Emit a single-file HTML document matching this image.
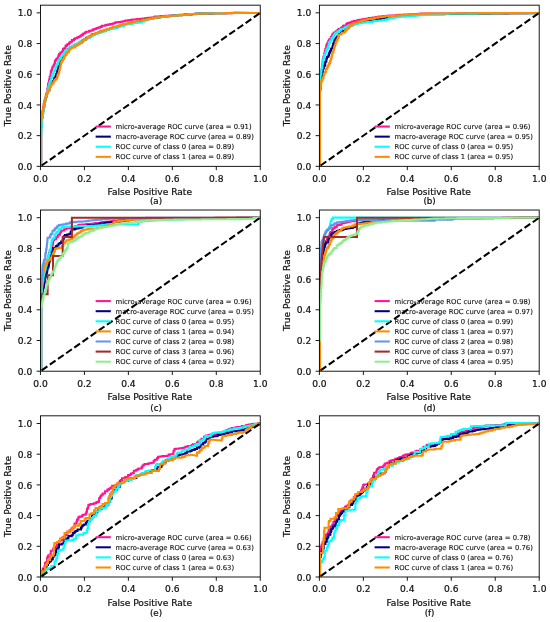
<!DOCTYPE html>
<html><head><meta charset="utf-8"><title>ROC curves</title>
<style>html,body{margin:0;padding:0;background:#fff}svg{display:block}text{font-family:"DejaVu Sans","Liberation Sans",sans-serif;fill:#111;stroke:#111;stroke-width:0.22px}text.lg{stroke-width:0.12px}</style>
</head><body>
<svg width="550" height="622" viewBox="0 0 550 622">
<rect width="550" height="622" fill="#fff"/>
<clipPath id="clipa"><rect x="40.45" y="5.17" width="219.8" height="161.18"/></clipPath>
<g clip-path="url(#clipa)" fill="none" stroke-linejoin="miter" stroke-linecap="butt">
<polyline points="41.1,166.3 41.1,130.0 41.1,129.1 41.1,128.0 41.1,125.9 41.1,124.9 41.2,124.9 41.2,124.1 41.3,124.1 41.3,123.0 41.3,122.0 41.4,122.0 41.4,120.1 41.6,120.1 41.7,120.1 41.7,118.5 41.9,118.5 41.9,116.9 42.0,116.9 42.0,116.0 42.2,116.0 42.2,114.9 42.2,114.0 42.3,114.0 42.3,113.3 42.4,113.3 42.4,111.2 42.8,111.2 43.0,111.2 43.0,109.8 43.0,108.9 43.2,108.9 43.2,108.1 43.3,108.1 43.3,106.9 43.5,106.9 43.5,105.9 43.7,105.9 43.7,104.0 44.0,104.0 44.0,102.9 44.3,102.9 44.3,102.1 44.5,102.1 44.5,100.8 44.8,100.8 45.0,100.8 45.0,100.1 45.0,98.9 45.3,98.9 45.3,98.0 45.5,98.0 45.8,98.0 45.8,96.7 45.8,95.9 46.0,95.9 46.3,95.9 46.3,94.7 46.6,94.7 46.6,93.5 47.0,93.5 47.0,92.0 47.2,92.0 47.2,91.1 47.4,91.1 47.4,90.1 47.4,88.8 47.6,88.8 47.8,88.8 47.8,87.9 47.9,87.9 47.9,87.0 47.9,86.2 48.1,86.2 48.1,84.0 48.5,84.0 48.5,82.8 48.8,82.8 49.0,82.8 49.0,81.5 49.0,80.5 49.2,80.5 49.4,80.5 49.4,79.8 49.4,79.0 49.5,79.0 49.7,79.0 49.7,78.2 49.7,76.7 50.0,76.7 50.5,76.7 50.5,74.6 50.8,74.6 50.8,72.8 50.8,72.0 51.0,72.0 51.0,71.4 51.2,71.4 51.2,70.5 51.6,70.5 51.9,70.5 51.9,69.8 52.2,69.8 52.2,69.0 52.2,68.0 52.6,68.0 52.6,66.4 53.2,66.4 53.6,66.4 53.6,65.5 54.0,65.5 54.0,64.4 54.7,64.4 54.7,62.6 55.0,62.6 55.0,62.0 55.0,60.8 55.8,60.8 55.8,60.0 56.3,60.0 56.3,59.1 56.8,59.1 56.8,58.5 57.2,58.5 57.9,58.5 57.9,57.4 58.3,57.4 58.3,56.8 58.3,56.2 58.6,56.2 58.6,55.5 59.1,55.5 59.1,54.0 60.0,54.0 60.0,53.5 60.4,53.5 60.4,52.8 60.9,52.8 61.6,52.8 61.6,52.0 62.2,52.0 62.2,51.2 63.0,51.2 63.0,50.2 63.0,49.0 63.9,49.0 63.9,48.3 64.5,48.3 65.4,48.3 65.4,47.1 65.4,46.5 65.8,46.5 65.8,45.6 66.5,45.6 67.0,45.6 67.0,45.0 67.0,44.5 67.7,44.5 68.3,44.5 68.3,44.1 69.1,44.1 69.1,43.5 69.1,43.1 69.6,43.1 69.6,42.4 70.5,42.4 70.5,41.8 71.3,41.8 71.9,41.8 71.9,41.3 71.9,40.1 73.5,40.1 74.0,40.1 74.0,39.8 74.0,39.0 75.0,39.0 75.0,38.2 76.4,38.2 77.0,38.2 77.0,37.8 77.0,37.4 77.7,37.4 78.4,37.4 78.4,36.9 79.3,36.9 79.3,36.4 80.5,36.4 80.5,35.7 81.5,35.7 81.5,35.1 82.7,35.1 82.7,34.4 82.7,34.0 83.3,34.0 83.3,33.5 84.1,33.5 85.0,33.5 85.0,33.0 85.0,32.5 86.2,32.5 86.2,31.8 87.9,31.8 89.1,31.8 89.1,31.3 89.1,31.1 89.8,31.1 89.8,30.8 90.4,30.8 91.3,30.8 91.3,30.5 92.9,30.5 92.9,29.8 92.9,29.6 93.5,29.6 93.5,29.3 94.3,29.3 95.0,29.3 95.0,29.0 96.0,29.0 96.0,28.7 96.0,28.4 96.8,28.4 96.8,28.1 97.7,28.1 97.7,27.8 98.5,27.8 99.1,27.8 99.1,27.6 99.9,27.6 99.9,27.4 99.9,26.9 101.1,26.9 101.1,26.6 102.1,26.6 102.1,25.8 104.3,25.8 105.0,25.8 105.0,25.6 105.0,25.2 106.4,25.2 106.4,24.9 107.6,24.9 107.6,24.6 108.8,24.6 110.0,24.6 110.0,24.3 110.0,24.1 110.9,24.1 112.5,24.1 112.5,23.6 112.5,23.4 113.3,23.4 114.0,23.4 114.0,23.3 115.0,23.3 115.0,23.0 115.0,22.8 115.8,22.8 115.8,22.3 118.3,22.3 118.3,22.1 119.5,22.1 119.5,21.9 120.3,21.9 121.2,21.9 121.2,21.8 122.4,21.8 122.4,21.5 122.4,21.4 123.2,21.4 123.2,21.2 124.0,21.2 125.0,21.2 125.0,21.0 125.0,20.8 126.1,20.8 126.1,20.6 127.8,20.6 127.8,20.3 129.6,20.3 129.6,20.1 130.4,20.1 130.4,20.0 131.3,20.0 131.3,19.8 132.8,19.8 132.8,19.5 134.1,19.5 134.1,19.4 135.0,19.4 136.2,19.4 136.2,19.3 136.2,19.2 137.3,19.2 137.3,19.1 138.4,19.1 138.4,18.9 139.6,18.9 140.6,18.9 140.6,18.8 142.9,18.8 142.9,18.6 142.9,18.5 143.7,18.5 143.7,18.4 145.0,18.4 145.0,18.2 146.4,18.2 146.4,18.1 147.4,18.1 147.4,18.0 148.3,18.0 148.3,17.8 149.5,17.8 149.5,17.7 150.5,17.7 151.3,17.7 151.3,17.6 151.3,17.4 152.5,17.4 153.9,17.4 153.9,17.3 153.9,17.1 154.8,17.1 154.8,16.6 158.6,16.6 158.6,16.5 159.4,16.5 160.9,16.5 160.9,16.3 160.9,16.2 161.7,16.2 161.7,16.1 162.8,16.1 162.8,16.0 163.6,16.0 165.2,16.0 165.2,15.9 165.2,15.8 166.1,15.8 167.0,15.8 167.0,15.7 168.7,15.7 169.6,15.7 169.6,15.6 171.0,15.6 171.0,15.5 171.0,15.4 172.5,15.4 172.5,15.3 174.1,15.3 174.1,15.2 175.1,15.2 175.1,15.1 176.9,15.1 176.9,15.0 178.1,15.0 178.1,14.9 179.8,14.9 179.8,14.8 180.8,14.8 182.0,14.8 183.2,14.8 183.2,14.7 184.9,14.7 184.9,14.6 184.9,14.4 186.6,14.4 186.6,14.3 188.5,14.3 188.5,14.2 189.6,14.2 190.4,14.2 190.4,14.1 191.8,14.1 191.8,14.0 192.6,14.0 192.6,13.9 194.5,13.9 195.3,13.9 195.3,13.8 196.1,13.8 197.7,13.8 197.7,13.7 197.7,13.6 199.0,13.6 200.2,13.6 201.1,13.6 202.0,13.6 202.0,13.5 203.4,13.5 204.8,13.5 206.7,13.5 207.5,13.5 207.5,13.4 208.7,13.4 210.3,13.4 211.8,13.4 213.3,13.4 214.2,13.4 214.2,13.3 215.5,13.3 217.2,13.3 218.1,13.3 219.1,13.3 219.1,13.2 220.4,13.2 222.1,13.2 223.2,13.2 225.0,13.2 225.0,13.1 226.4,13.1 227.6,13.1 228.8,13.1 230.3,13.1 231.6,13.1 231.6,13.0 234.5,13.0 260.5,13.0" stroke="#ff1493" stroke-width="2.05"/>
<polyline points="41.1,166.3 41.1,132.0 41.1,131.1 41.1,130.1 41.1,129.2 41.1,127.5 41.3,127.5 41.3,125.9 41.5,125.9 41.5,123.5 41.6,123.5 41.6,122.3 41.8,122.3 41.8,121.0 41.9,121.0 41.9,120.1 41.9,119.0 42.0,119.0 42.0,117.4 42.3,117.4 42.5,117.4 42.5,116.0 42.5,114.5 42.7,114.5 42.7,113.6 42.9,113.6 43.1,113.6 43.1,112.1 43.1,110.6 43.4,110.6 43.4,109.6 43.6,109.6 43.7,109.6 43.7,108.7 43.7,107.9 43.8,107.9 44.0,107.9 44.0,107.0 44.3,107.0 44.3,105.6 44.3,104.4 44.6,104.4 44.6,103.4 44.8,103.4 44.8,102.5 45.0,102.5 45.0,101.8 45.2,101.8 45.2,100.0 45.6,100.0 45.6,98.7 45.9,98.7 45.9,97.7 46.2,97.7 46.2,96.8 46.4,96.8 46.4,95.5 46.7,95.5 46.7,94.0 47.0,94.0 47.2,94.0 47.2,93.4 47.2,92.6 47.5,92.6 47.5,92.0 47.8,92.0 48.0,92.0 48.0,91.2 48.4,91.2 48.4,90.1 49.3,90.1 49.3,87.9 49.3,87.2 49.6,87.2 49.6,86.0 50.0,86.0 50.0,85.1 50.6,85.1 50.6,83.9 51.4,83.9 51.4,83.4 51.7,83.4 52.2,83.4 52.2,82.7 52.2,81.9 52.7,81.9 52.7,81.1 53.3,81.1 54.0,81.1 54.0,80.0 54.0,79.1 54.4,79.1 54.4,77.8 54.9,77.8 55.5,77.8 55.5,76.6 55.5,75.9 55.8,75.9 56.1,75.9 56.1,75.1 56.1,73.9 56.6,73.9 57.0,73.9 57.0,73.0 57.0,72.3 57.2,72.3 57.2,71.0 57.5,71.0 57.5,70.3 57.7,70.3 58.0,70.3 58.0,69.5 58.0,68.5 58.2,68.5 58.2,67.0 58.6,67.0 58.6,66.1 58.9,66.1 59.1,66.1 59.1,65.3 59.3,65.3 59.3,64.5 60.0,64.5 60.0,62.0 60.0,61.0 60.6,61.0 60.6,60.1 61.2,60.1 61.2,59.1 61.8,59.1 61.8,58.4 62.2,58.4 62.2,57.9 62.6,57.9 62.6,57.1 63.0,57.1 63.0,56.5 63.5,56.5 63.5,55.6 64.0,55.6 64.0,54.0 65.0,54.0 65.0,53.4 65.5,53.4 66.2,53.4 66.2,52.6 66.2,52.1 66.6,52.1 66.6,51.2 67.4,51.2 67.4,50.5 67.9,50.5 67.9,49.5 68.7,49.5 68.7,48.7 69.4,48.7 69.4,48.0 70.0,48.0 70.0,47.5 71.1,47.5 71.1,47.2 71.7,47.2 72.3,47.2 72.3,46.9 72.3,46.4 73.1,46.4 73.1,46.2 73.7,46.2 73.7,45.5 74.9,45.5 75.6,45.5 75.6,45.2 75.6,44.7 76.6,44.7 76.6,44.0 78.0,44.0 78.0,43.5 78.7,43.5 79.5,43.5 79.5,43.0 79.5,42.5 80.2,42.5 80.2,42.2 80.7,42.2 81.7,42.2 81.7,41.6 82.2,41.6 82.2,41.2 83.2,41.2 83.2,40.5 83.2,40.0 84.0,40.0 84.0,39.5 84.7,39.5 86.1,39.5 86.1,38.6 86.1,38.0 87.0,38.0 87.0,37.6 87.8,37.6 88.4,37.6 88.4,37.3 89.6,37.3 89.6,36.7 89.6,36.4 90.2,36.4 90.2,36.1 90.7,36.1 91.4,36.1 91.4,35.8 91.4,35.3 92.4,35.3 92.4,34.3 94.4,34.3 94.4,34.0 95.0,34.0 96.3,34.0 96.3,33.5 97.1,33.5 97.1,33.3 97.1,32.9 98.2,32.9 98.2,32.7 98.8,32.7 98.8,32.4 99.6,32.4 99.6,32.1 100.3,32.1 100.3,31.6 101.9,31.6 101.9,31.3 102.6,31.3 102.6,30.8 104.1,30.8 105.0,30.8 105.0,30.5 106.1,30.5 106.1,30.2 106.1,29.9 107.0,29.9 107.0,29.6 108.0,29.6 108.0,29.4 108.7,29.4 108.7,29.0 109.9,29.0 109.9,28.7 110.9,28.7 110.9,28.1 113.1,28.1 114.1,28.1 114.1,27.8 115.0,27.8 115.0,27.5 116.2,27.5 116.2,27.1 117.5,27.1 117.5,26.7 117.5,26.5 118.4,26.5 119.5,26.5 119.5,26.1 119.5,25.8 120.8,25.8 120.8,25.5 121.7,25.5 122.6,25.5 122.6,25.2 122.6,25.0 123.4,25.0 123.4,24.5 125.0,24.5 125.0,24.3 125.8,24.3 125.8,23.9 127.7,23.9 127.7,23.7 128.6,23.7 129.3,23.7 129.3,23.6 129.3,23.3 130.6,23.3 130.6,23.1 131.6,23.1 132.4,23.1 132.4,22.9 133.8,22.9 133.8,22.6 133.8,22.3 135.0,22.3 136.8,22.3 136.8,21.8 136.8,21.4 138.2,21.4 138.2,21.1 139.4,21.1 140.4,21.1 140.4,20.8 141.1,20.8 141.1,20.7 141.1,20.5 141.8,20.5 141.8,20.1 143.1,20.1 143.1,19.8 144.2,19.8 145.0,19.8 145.0,19.6 145.0,19.4 146.2,19.4 146.2,19.3 147.0,19.3 147.0,19.1 147.9,19.1 147.9,19.0 148.7,19.0 148.7,18.8 149.6,18.8 151.0,18.8 151.0,18.6 151.0,18.5 151.8,18.5 151.8,18.3 152.6,18.3 153.9,18.3 153.9,18.1 153.9,18.0 154.8,18.0 157.5,18.0 157.5,17.5 159.8,17.5 159.8,17.1 159.8,16.8 161.6,16.8 161.6,16.6 162.8,16.6 162.8,16.5 163.6,16.5 163.6,16.4 164.6,16.4 166.3,16.4 166.3,16.3 168.2,16.3 168.2,16.1 169.8,16.1 169.8,16.0 171.5,16.0 171.5,15.9 171.5,15.7 173.0,15.7 173.8,15.7 174.7,15.7 174.7,15.6 174.7,15.5 175.5,15.5 175.5,15.4 176.7,15.4 177.6,15.4 177.6,15.3 178.6,15.3 178.6,15.2 179.5,15.2 179.5,15.1 180.8,15.1 182.0,15.1 182.0,15.0 184.0,15.0 184.0,14.8 185.6,14.8 185.6,14.7 185.6,14.5 187.6,14.5 187.6,14.4 188.9,14.4 189.8,14.4 191.1,14.4 191.1,14.2 192.2,14.2 192.2,14.0 193.5,14.0 193.5,13.9 195.4,13.9 195.4,13.8 196.2,13.8 196.2,13.7 197.6,13.7 199.0,13.7 199.0,13.6 200.1,13.6 200.1,13.5 201.8,13.5 203.0,13.5 204.8,13.5 206.2,13.5 206.2,13.4 207.7,13.4 209.8,13.4 211.3,13.4 211.3,13.3 212.2,13.3 213.5,13.3 214.5,13.3 215.6,13.3 215.6,13.2 217.2,13.2 218.1,13.2 219.0,13.2 220.3,13.2 221.2,13.2 221.2,13.1 222.2,13.1 223.5,13.1 224.3,13.1 226.1,13.1 226.1,13.0 227.0,13.0 228.2,13.0 229.8,13.0 231.2,13.0 234.5,13.0 234.5,12.9 260.5,13.0" stroke="#000080" stroke-width="2.05"/>
<polyline points="41.1,166.3 41.1,148.0 41.1,145.8 41.1,144.7 41.1,143.3 41.1,141.5 41.1,140.5 41.1,139.3 41.1,138.1 41.1,137.1 41.1,135.8 41.2,135.8 41.2,135.0 41.2,134.1 41.3,134.1 41.3,132.7 41.4,132.7 41.4,131.5 41.4,130.5 41.5,130.5 41.5,129.6 41.5,127.6 41.6,127.6 41.7,127.6 41.7,126.6 41.7,125.0 41.8,125.0 41.9,125.0 41.9,124.2 41.9,123.3 41.9,121.6 42.1,121.6 42.2,121.6 42.2,120.1 42.2,118.7 42.4,118.7 42.4,117.1 42.5,117.1 42.5,116.0 42.6,116.0 42.9,116.0 42.9,114.0 43.1,114.0 43.1,113.2 43.1,111.6 43.3,111.6 43.3,110.2 43.5,110.2 43.5,109.1 43.7,109.1 43.9,109.1 43.9,108.1 44.0,108.1 44.0,107.3 44.0,106.0 44.2,106.0 44.4,106.0 44.4,105.3 44.8,105.3 44.8,103.3 44.8,102.4 44.9,102.4 44.9,100.8 45.3,100.8 45.3,99.8 45.5,99.8 45.5,98.5 45.8,98.5 45.8,97.5 46.0,97.5 46.0,96.0 46.3,96.0 46.5,96.0 46.5,95.0 46.8,95.0 46.8,94.0 46.8,92.4 47.2,92.4 47.2,91.5 47.5,91.5 47.5,90.3 47.8,90.3 48.3,90.3 48.3,88.6 48.3,87.8 48.5,87.8 48.5,87.1 48.7,87.1 48.7,86.0 49.0,86.0 49.2,86.0 49.2,85.4 49.2,84.1 49.6,84.1 49.6,82.8 50.1,82.8 50.3,82.8 50.3,82.2 50.3,81.1 50.6,81.1 51.1,81.1 51.1,79.6 51.1,78.4 51.5,78.4 51.5,77.7 51.8,77.7 51.8,77.0 52.0,77.0 52.0,76.3 52.3,76.3 52.3,75.6 52.5,75.6 52.5,74.0 53.2,74.0 53.2,73.2 53.5,73.2 53.5,72.4 53.8,72.4 53.8,71.3 54.3,71.3 54.9,71.3 54.9,69.7 55.3,69.7 55.3,68.7 55.3,68.0 55.6,68.0 55.6,67.0 56.0,67.0 56.0,66.4 56.3,66.4 56.6,66.4 56.6,65.8 56.6,64.9 57.0,64.9 57.0,63.9 57.5,63.9 58.1,63.9 58.1,62.9 58.1,62.0 58.5,62.0 58.5,60.7 59.2,60.7 59.5,60.7 59.5,60.0 59.5,59.0 60.0,59.0 60.0,58.4 60.4,58.4 61.0,58.4 61.0,57.5 61.0,56.1 62.1,56.1 62.1,55.5 62.5,55.5 63.4,55.5 63.4,54.2 63.8,54.2 63.8,53.6 63.8,53.1 64.2,53.1 64.2,52.6 64.6,52.6 65.0,52.6 65.0,52.0 65.0,51.5 65.6,51.5 65.6,51.0 66.1,51.0 66.1,50.0 67.2,50.0 67.2,49.5 67.8,49.5 68.9,49.5 68.9,48.5 68.9,48.1 69.3,48.1 69.3,47.5 70.0,47.5 70.0,47.1 70.7,47.1 71.8,47.1 71.8,46.6 72.4,46.6 72.4,46.3 72.4,45.9 73.2,45.9 74.1,45.9 74.1,45.4 75.1,45.4 75.1,44.9 75.1,44.4 76.2,44.4 76.2,44.0 77.0,44.0 77.0,43.5 78.0,43.5 78.0,43.0 78.9,43.0 78.9,42.7 79.5,42.7 79.5,42.1 80.5,42.1 80.5,41.1 82.3,41.1 83.2,41.1 83.2,40.6 83.8,40.6 83.8,40.3 84.4,40.3 84.4,39.9 84.4,39.6 85.0,39.6 85.0,39.2 85.8,39.2 87.0,39.2 87.0,38.5 88.1,38.5 88.1,38.0 88.1,37.6 88.8,37.6 90.0,37.6 90.0,37.0 90.0,36.6 90.7,36.6 90.7,36.0 92.1,36.0 92.1,35.7 92.7,35.7 93.2,35.7 93.2,35.4 93.2,34.9 94.2,34.9 95.0,34.9 95.0,34.5 95.0,34.1 96.2,34.1 96.9,34.1 96.9,33.8 96.9,33.5 97.9,33.5 97.9,33.2 98.7,33.2 98.7,32.8 99.8,32.8 101.0,32.8 101.0,32.4 101.0,32.0 102.1,32.0 102.1,31.6 103.2,31.6 103.2,31.4 103.8,31.4 105.0,31.4 105.0,31.0 105.0,30.8 105.7,30.8 105.7,30.6 106.4,30.6 106.4,29.9 108.5,29.9 108.5,29.4 110.2,29.4 110.2,29.1 111.5,29.1 111.5,28.8 112.3,28.8 113.1,28.8 113.1,28.6 113.1,28.3 114.0,28.3 114.0,28.0 115.0,28.0 115.0,27.8 115.8,27.8 116.8,27.8 116.8,27.5 118.0,27.5 118.0,27.1 118.9,27.1 118.9,26.8 118.9,26.6 119.7,26.6 119.7,26.3 120.6,26.3 120.6,26.1 121.4,26.1 123.2,26.1 123.2,25.5 125.0,25.5 125.0,25.0 125.0,24.5 127.6,24.5 127.6,24.3 128.3,24.3 128.3,24.1 129.5,24.1 130.3,24.1 130.3,23.9 131.1,23.9 131.1,23.8 131.1,23.6 131.8,23.6 131.8,23.4 132.9,23.4 132.9,23.3 133.7,23.3 135.0,23.3 135.0,23.0 136.2,23.0 136.2,22.9 136.2,22.8 137.5,22.8 137.5,22.7 138.5,22.7 138.5,22.6 139.5,22.6 139.5,22.5 141.0,22.5 141.8,22.5 141.8,22.1 141.8,21.8 142.5,21.8 142.5,21.4 143.1,21.4 144.5,21.4 144.5,20.8 144.5,20.4 145.2,20.4 147.0,20.4 147.0,19.5 148.4,19.5 148.4,19.2 149.2,19.2 149.2,19.1 149.2,18.9 150.3,18.9 150.3,18.7 151.6,18.7 152.5,18.7 152.5,18.5 153.2,18.5 153.2,18.4 154.0,18.4 154.0,18.2 154.0,17.7 157.2,17.7 157.2,17.4 158.4,17.4 159.8,17.4 159.8,17.2 159.8,17.1 160.5,17.1 161.8,17.1 161.8,16.8 161.8,16.7 162.7,16.7 163.6,16.7 163.6,16.5 163.6,16.4 164.6,16.4 166.3,16.4 166.3,16.3 166.3,16.1 168.6,16.1 168.6,15.9 170.1,15.9 171.0,15.9 171.0,15.8 172.3,15.8 172.3,15.6 173.6,15.6 174.8,15.6 174.8,15.5 175.8,15.5 175.8,15.4 176.9,15.4 176.9,15.2 178.6,15.2 179.5,15.2 179.5,15.0 181.9,15.0 181.9,14.8 183.2,14.8 184.6,14.8 184.6,14.7 185.8,14.7 185.8,14.6 185.8,14.5 187.0,14.5 187.0,14.4 187.9,14.4 187.9,14.3 189.3,14.3 190.3,14.3 190.3,14.2 190.3,14.1 191.4,14.1 192.5,14.1 192.5,14.0 193.5,14.0 196.0,14.0 196.0,13.8 196.0,13.7 196.8,13.7 196.8,13.6 198.2,13.6 198.2,13.5 199.0,13.5 200.1,13.5 200.1,13.4 201.9,13.4 207.2,13.4 207.2,13.3 208.9,13.3 209.7,13.3 210.9,13.3 210.9,13.2 211.8,13.2 212.7,13.2 214.8,13.2 215.8,13.2 215.8,13.1 216.9,13.1 218.2,13.1 219.1,13.1 220.2,13.1 221.7,13.1 221.7,13.0 222.6,13.0 224.6,13.0 225.7,13.0 226.8,13.0 226.8,12.9 227.8,12.9 228.9,12.9 229.9,12.9 230.9,12.9 232.0,12.9 232.0,12.8 233.0,12.8 234.5,12.8 260.5,13.0" stroke="#00ffff" stroke-width="2.05"/>
<polyline points="41.1,166.3 41.1,130.0 41.1,129.0 41.1,127.0 41.1,126.0 41.1,124.9 41.1,124.0 41.1,122.9 41.2,122.9 41.2,121.9 41.2,120.0 41.4,120.0 41.4,119.1 41.5,119.1 41.7,119.1 41.7,117.9 41.7,115.3 42.1,115.3 42.1,114.6 42.3,114.6 42.3,113.2 42.5,113.2 42.5,112.4 42.6,112.4 42.8,112.4 42.8,111.4 42.8,110.0 43.0,110.0 43.2,110.0 43.2,109.1 43.2,107.9 43.4,107.9 43.7,107.9 43.7,106.7 43.7,105.5 43.9,105.5 43.9,104.2 44.2,104.2 44.2,103.3 44.3,103.3 44.3,101.5 44.7,101.5 44.7,100.7 44.9,100.7 44.9,100.0 45.0,100.0 45.3,100.0 45.3,99.3 45.5,99.3 45.5,98.6 45.5,97.9 45.8,97.9 45.8,96.8 46.2,96.8 46.2,96.1 46.5,96.1 46.5,94.9 46.9,94.9 46.9,93.0 47.6,93.0 47.6,92.0 48.0,92.0 48.0,91.0 48.5,91.0 48.8,91.0 48.8,90.4 49.3,90.4 49.3,89.3 49.8,89.3 49.8,88.4 49.8,86.8 50.6,86.8 51.0,86.8 51.0,86.0 51.0,85.5 51.4,85.5 51.4,84.2 52.4,84.2 52.7,84.2 52.7,83.7 52.7,83.1 53.2,83.1 53.6,83.1 53.6,82.6 53.6,81.3 54.5,81.3 54.5,80.3 55.3,80.3 55.3,79.4 56.0,79.4 56.0,78.7 56.5,78.7 57.0,78.7 57.0,78.0 57.3,78.0 57.3,77.4 57.3,76.1 57.7,76.1 57.7,74.5 58.4,74.5 58.4,73.8 58.7,73.8 58.7,73.0 59.0,73.0 59.0,72.0 59.2,72.0 59.2,70.3 59.6,70.3 59.6,69.6 59.8,69.6 59.8,67.8 60.2,67.8 60.3,67.8 60.3,67.1 60.3,66.0 60.6,66.0 60.7,66.0 60.7,65.2 60.7,64.0 61.0,64.0 61.0,62.9 61.6,62.9 61.6,61.1 62.5,61.1 62.5,60.6 62.7,60.6 62.7,60.0 63.0,60.0 63.0,59.4 63.3,59.4 63.3,58.7 63.6,58.7 63.9,58.7 63.9,58.1 64.5,58.1 64.5,57.0 64.5,56.0 65.0,56.0 65.0,55.5 65.4,55.5 65.4,54.9 65.8,54.9 66.4,54.9 66.4,54.0 66.4,53.3 66.9,53.3 66.9,52.6 67.4,52.6 67.4,52.1 67.8,52.1 68.9,52.1 68.9,50.6 68.9,49.7 69.5,49.7 70.0,49.7 70.0,49.0 70.7,49.0 70.7,48.6 70.7,48.3 71.5,48.3 71.5,47.8 72.3,47.8 72.3,47.4 73.2,47.4 74.9,47.4 74.9,46.5 74.9,46.1 75.7,46.1 75.7,45.7 76.5,45.7 76.5,45.4 77.3,45.4 77.3,45.0 78.0,45.0 78.0,44.6 78.6,44.6 78.6,44.0 79.3,44.0 79.3,43.2 80.3,43.2 81.1,43.2 81.1,42.6 81.9,42.6 81.9,41.9 81.9,40.3 84.0,40.3 84.0,39.8 84.7,39.8 84.7,39.3 85.3,39.3 86.0,39.3 86.0,38.8 86.0,38.4 86.5,38.4 87.0,38.4 87.0,38.0 87.0,37.5 87.9,37.5 87.9,37.0 88.7,37.0 88.7,36.5 89.7,36.5 90.4,36.5 90.4,36.1 90.4,35.8 91.0,35.8 91.0,35.2 92.1,35.2 92.1,34.4 93.6,34.4 94.2,34.4 94.2,34.0 95.0,34.0 95.0,33.6 95.0,33.2 96.1,33.2 96.1,32.9 96.8,32.9 97.7,32.9 97.7,32.6 97.7,32.3 98.6,32.3 98.6,32.0 99.4,32.0 100.2,32.0 100.2,31.7 100.2,31.3 101.4,31.3 102.5,31.3 102.5,30.9 104.1,30.9 104.1,30.3 104.1,30.0 105.0,30.0 105.0,29.7 105.9,29.7 106.6,29.7 106.6,29.5 107.6,29.5 107.6,29.2 107.6,28.8 109.0,28.8 110.3,28.8 110.3,28.4 110.3,28.2 111.1,28.2 111.1,28.0 111.8,28.0 111.8,27.7 112.5,27.7 112.5,27.0 115.0,27.0 115.0,26.7 115.9,26.7 116.9,26.7 116.9,26.4 116.9,26.2 117.7,26.2 117.7,25.8 118.9,25.8 119.6,25.8 119.6,25.6 119.6,25.2 121.0,25.2 121.0,24.8 122.4,24.8 123.6,24.8 123.6,24.4 123.6,24.0 125.0,24.0 125.8,24.0 125.8,23.8 127.1,23.8 127.1,23.5 127.8,23.5 127.8,23.3 128.7,23.3 128.7,23.1 129.7,23.1 129.7,22.9 129.7,22.6 130.8,22.6 132.1,22.6 132.1,22.3 132.1,21.9 133.8,21.9 135.0,21.9 135.0,21.6 135.0,21.3 136.3,21.3 137.6,21.3 137.6,21.1 137.6,20.8 138.8,20.8 139.5,20.8 139.5,20.7 140.7,20.7 140.7,20.5 142.0,20.5 142.0,20.2 142.0,20.0 143.2,20.0 143.2,19.8 143.9,19.8 143.9,19.6 145.0,19.6 146.6,19.6 146.6,19.3 147.7,19.3 147.7,19.1 149.4,19.1 149.4,18.9 149.4,18.6 150.9,18.6 150.9,18.4 152.1,18.4 153.0,18.4 153.0,18.3 153.0,18.0 154.5,18.0 154.5,17.9 155.3,17.9 155.3,17.6 156.9,17.6 156.9,17.5 157.9,17.5 159.1,17.5 159.1,17.2 159.1,17.1 160.0,17.1 160.0,17.0 160.8,17.0 160.8,16.8 161.8,16.8 161.8,16.5 163.6,16.5 163.6,16.4 164.7,16.4 164.7,16.3 166.0,16.3 167.6,16.3 167.6,16.2 168.8,16.2 168.8,16.1 168.8,15.9 171.1,15.9 171.1,15.8 172.3,15.8 173.8,15.8 173.8,15.7 174.9,15.7 174.9,15.6 176.8,15.6 176.8,15.5 178.7,15.5 178.7,15.3 179.9,15.3 179.9,15.2 179.9,15.1 180.9,15.1 181.8,15.1 181.8,15.0 183.0,15.0 183.0,14.9 184.4,14.9 185.4,14.9 185.4,14.8 185.4,14.7 186.3,14.7 187.9,14.7 187.9,14.6 189.0,14.6 189.0,14.5 190.0,14.5 190.0,14.4 190.0,14.2 192.2,14.2 193.1,14.2 193.1,14.1 194.4,14.1 195.6,14.1 195.6,14.0 195.6,13.9 196.5,13.9 196.5,13.8 197.8,13.8 199.0,13.8 199.0,13.7 200.1,13.7 200.1,13.6 202.6,13.6 204.0,13.6 205.2,13.6 205.2,13.5 207.1,13.5 207.9,13.5 210.8,13.5 210.8,13.4 211.9,13.4 213.6,13.4 214.5,13.4 215.4,13.4 217.2,13.4 217.2,13.3 218.4,13.3 220.5,13.3 221.8,13.3 222.7,13.3 222.7,13.2 224.1,13.2 225.1,13.2 226.4,13.2 226.4,13.1 227.3,13.1 228.2,13.1 229.2,13.1 230.7,13.1 231.7,13.1 231.7,13.0 233.3,13.0 234.5,13.0 260.5,13.0" stroke="#ff8c00" stroke-width="2.05"/>
<line x1="40.45" y1="166.35" x2="260.25" y2="12.85" stroke="#000" stroke-width="2.05" stroke-dasharray="6.94 3.01" stroke-dashoffset="-1.5"/>
</g>
<rect x="40.45" y="5.17" width="219.8" height="161.18" fill="none" stroke="#000" stroke-width="0.9"/>
<line x1="40.45" y1="166.35" x2="40.45" y2="170.15" stroke="#000" stroke-width="0.9"/>
<line x1="40.45" y1="166.35" x2="36.650000000000006" y2="166.35" stroke="#000" stroke-width="0.9"/>
<text x="40.45" y="181.75" font-size="9.1" text-anchor="middle">0.0</text>
<text x="32.25" y="169.95" font-size="9.1" text-anchor="end">0.0</text>
<line x1="84.41" y1="166.35" x2="84.41" y2="170.15" stroke="#000" stroke-width="0.9"/>
<line x1="40.45" y1="135.65" x2="36.650000000000006" y2="135.65" stroke="#000" stroke-width="0.9"/>
<text x="84.41" y="181.75" font-size="9.1" text-anchor="middle">0.2</text>
<text x="32.25" y="139.25" font-size="9.1" text-anchor="end">0.2</text>
<line x1="128.37" y1="166.35" x2="128.37" y2="170.15" stroke="#000" stroke-width="0.9"/>
<line x1="40.45" y1="104.95" x2="36.650000000000006" y2="104.95" stroke="#000" stroke-width="0.9"/>
<text x="128.37" y="181.75" font-size="9.1" text-anchor="middle">0.4</text>
<text x="32.25" y="108.55" font-size="9.1" text-anchor="end">0.4</text>
<line x1="172.33" y1="166.35" x2="172.33" y2="170.15" stroke="#000" stroke-width="0.9"/>
<line x1="40.45" y1="74.25" x2="36.650000000000006" y2="74.25" stroke="#000" stroke-width="0.9"/>
<text x="172.33" y="181.75" font-size="9.1" text-anchor="middle">0.6</text>
<text x="32.25" y="77.85" font-size="9.1" text-anchor="end">0.6</text>
<line x1="216.29" y1="166.35" x2="216.29" y2="170.15" stroke="#000" stroke-width="0.9"/>
<line x1="40.45" y1="43.55" x2="36.650000000000006" y2="43.55" stroke="#000" stroke-width="0.9"/>
<text x="216.29" y="181.75" font-size="9.1" text-anchor="middle">0.8</text>
<text x="32.25" y="47.15" font-size="9.1" text-anchor="end">0.8</text>
<line x1="260.25" y1="166.35" x2="260.25" y2="170.15" stroke="#000" stroke-width="0.9"/>
<line x1="40.45" y1="12.85" x2="36.650000000000006" y2="12.85" stroke="#000" stroke-width="0.9"/>
<text x="260.25" y="181.75" font-size="9.1" text-anchor="middle">1.0</text>
<text x="32.25" y="16.45" font-size="9.1" text-anchor="end">1.0</text>
<text x="149.75" y="195.45" font-size="9.1" text-anchor="middle">False Positive Rate</text>
<text transform="translate(11.45,85.76) rotate(-90)" font-size="9.1" text-anchor="middle">True Positive Rate</text>
<text x="156.05" y="203.85" font-size="8.7" text-anchor="middle">(a)</text>
<line x1="95.65" y1="126.55" x2="110.85000000000001" y2="126.55" stroke="#ff1493" stroke-width="2.05"/>
<text x="115.55" y="129.01" font-size="6.83" class="lg">micro-average ROC curve (area = 0.91)</text>
<line x1="95.65" y1="136.65" x2="110.85000000000001" y2="136.65" stroke="#000080" stroke-width="2.05"/>
<text x="115.55" y="139.11" font-size="6.83" class="lg">macro-average ROC curve (area = 0.89)</text>
<line x1="95.65" y1="146.75" x2="110.85000000000001" y2="146.75" stroke="#00ffff" stroke-width="2.05"/>
<text x="115.55" y="149.21" font-size="6.83" class="lg">ROC curve of class 0 (area = 0.89)</text>
<line x1="95.65" y1="156.85" x2="110.85000000000001" y2="156.85" stroke="#ff8c00" stroke-width="2.05"/>
<text x="115.55" y="159.31" font-size="6.83" class="lg">ROC curve of class 1 (area = 0.89)</text>
<clipPath id="clipb"><rect x="319.4" y="5.17" width="219.8" height="161.18"/></clipPath>
<g clip-path="url(#clipb)" fill="none" stroke-linejoin="miter" stroke-linecap="butt">
<polyline points="320.0,166.3 320.0,100.0 320.0,98.3 320.0,97.3 320.0,95.4 320.0,92.7 320.0,91.6 320.0,90.7 320.1,90.7 320.1,89.5 320.2,89.5 320.2,87.1 320.2,86.1 320.2,85.2 320.3,85.2 320.3,83.9 320.3,83.0 320.4,83.0 320.4,82.1 320.4,81.3 320.4,80.0 320.5,80.0 320.5,78.9 320.6,78.9 320.8,78.9 320.8,77.8 320.8,76.5 320.9,76.5 321.1,76.5 321.1,75.2 321.2,75.2 321.2,74.3 321.2,73.4 321.3,73.4 321.3,72.6 321.4,72.6 321.5,72.6 321.5,71.7 321.5,69.4 321.8,69.4 322.0,69.4 322.0,68.2 322.1,68.2 322.1,67.3 322.1,65.5 322.3,65.5 322.3,64.4 322.5,64.4 322.5,63.6 322.5,62.2 322.7,62.2 322.7,60.0 323.0,60.0 323.0,58.9 323.3,58.9 323.3,57.0 323.8,57.0 323.8,56.1 324.0,56.1 324.0,55.5 324.1,55.5 324.1,54.2 324.4,54.2 324.4,53.3 324.7,53.3 324.9,53.3 324.9,52.5 324.9,51.0 325.3,51.0 325.3,48.8 325.8,48.8 326.2,48.8 326.2,47.3 326.2,46.3 326.4,46.3 326.4,45.4 326.7,45.4 326.7,44.7 326.8,44.7 327.0,44.7 327.0,44.0 327.3,44.0 327.3,43.5 327.8,43.5 327.8,42.8 328.3,42.8 328.3,41.9 328.3,40.7 329.1,40.7 329.1,40.0 329.6,40.0 329.6,39.0 330.2,39.0 330.9,39.0 330.9,37.9 330.9,36.8 331.6,36.8 332.1,36.8 332.1,36.0 332.1,35.3 332.5,35.3 332.5,34.3 333.2,34.3 333.2,33.6 333.6,33.6 334.0,33.6 334.0,33.0 334.0,32.6 334.6,32.6 335.8,32.6 335.8,31.7 335.8,31.3 336.3,31.3 337.5,31.3 337.5,30.5 337.5,30.1 338.1,30.1 338.1,29.5 338.9,29.5 338.9,29.0 339.6,29.0 339.6,28.7 340.1,28.7 341.0,28.7 341.0,28.0 341.8,28.0 341.8,27.4 342.5,27.4 342.5,26.9 343.0,26.9 343.0,26.5 343.0,26.0 343.7,26.0 343.7,25.5 344.4,25.5 346.3,25.5 346.3,24.1 347.0,24.1 347.0,23.6 347.8,23.6 347.8,23.3 347.8,23.1 348.5,23.1 349.7,23.1 349.7,22.7 349.7,22.5 350.4,22.5 351.3,22.5 351.3,22.2 351.3,22.0 351.9,22.0 351.9,21.4 353.8,21.4 353.8,21.0 355.0,21.0 355.0,20.7 356.6,20.7 357.7,20.7 357.7,20.5 357.7,20.1 359.4,20.1 359.4,19.8 360.8,19.8 360.8,19.7 361.7,19.7 361.7,19.5 362.6,19.5 362.6,19.3 363.6,19.3 363.6,19.1 364.3,19.1 364.3,19.0 365.0,19.0 365.0,18.8 366.2,18.8 367.0,18.8 367.0,18.7 368.0,18.7 368.0,18.6 368.0,18.4 368.8,18.4 368.8,18.1 371.2,18.1 371.2,17.9 372.0,17.9 372.0,17.8 373.2,17.8 373.2,17.6 374.1,17.6 374.9,17.6 374.9,17.5 375.8,17.5 375.8,17.4 375.8,17.1 377.5,17.1 378.6,17.1 378.6,17.0 378.6,16.5 382.0,16.5 382.0,16.3 383.1,16.3 383.1,16.2 383.9,16.2 383.9,16.0 385.0,16.0 385.8,16.0 385.8,15.9 386.8,15.9 386.8,15.8 388.3,15.8 388.3,15.7 389.3,15.7 389.3,15.6 391.3,15.6 391.3,15.4 392.9,15.4 393.9,15.4 395.5,15.4 395.5,15.3 396.5,15.3 396.5,15.2 396.5,15.1 397.4,15.1 398.2,15.1 399.5,15.1 399.5,15.0 399.5,14.8 401.5,14.8 404.0,14.8 404.0,14.7 404.0,14.6 405.0,14.6 407.1,14.6 407.1,14.5 409.5,14.5 409.5,14.4 409.5,14.3 410.5,14.3 410.5,14.2 411.5,14.2 413.0,14.2 415.2,14.2 415.2,14.0 416.1,14.0 416.1,13.9 416.9,13.9 418.3,13.9 418.3,13.8 419.1,13.8 420.0,13.8 420.0,13.7 421.1,13.7 421.1,13.6 422.3,13.6 423.8,13.6 425.0,13.6 425.0,13.5 425.9,13.5 426.8,13.5 427.8,13.5 430.1,13.5 432.7,13.5 434.2,13.5 435.8,13.5 435.8,13.4 436.7,13.4 437.9,13.4 438.8,13.4 440.3,13.4 441.5,13.4 442.6,13.4 443.6,13.4 444.6,13.4 446.4,13.4 447.4,13.4 448.4,13.4 449.6,13.4 450.8,13.4 452.2,13.4 453.1,13.4 454.3,13.4 455.8,13.4 457.0,13.4 458.2,13.4 458.2,13.3 459.4,13.3 460.9,13.3 464.6,13.3 465.7,13.3 466.6,13.3 467.5,13.3 468.7,13.3 470.3,13.3 472.0,13.3 473.2,13.3 474.2,13.3 478.0,13.3 478.9,13.3 479.9,13.3 482.6,13.3 482.6,13.2 484.0,13.2 484.9,13.2 487.0,13.2 487.8,13.2 488.9,13.2 489.9,13.2 490.9,13.2 492.1,13.2 493.7,13.2 495.5,13.2 496.4,13.2 498.0,13.2 500.1,13.2 501.4,13.2 502.6,13.2 503.5,13.2 504.7,13.2 504.7,13.1 505.7,13.1 507.3,13.1 508.9,13.1 509.9,13.1 511.2,13.1 512.9,13.1 514.2,13.1 516.1,13.1 517.1,13.1 518.0,13.1 518.9,13.1 520.3,13.1 522.2,13.1 523.3,13.1 524.8,13.1 526.2,13.1 527.6,13.1 527.6,13.0 531.3,13.0 532.2,13.0 533.3,13.0 534.6,13.0 536.4,13.0 538.2,13.0 539.5,13.0" stroke="#ff1493" stroke-width="2.05"/>
<polyline points="320.0,166.3 320.0,96.0 320.0,95.0 320.0,93.3 320.0,92.0 320.0,90.7 320.0,89.6 320.1,89.6 320.1,88.7 320.2,88.7 320.4,88.7 320.4,86.1 320.4,85.0 320.5,85.0 320.5,84.2 320.6,84.2 320.6,83.4 320.8,83.4 320.8,82.3 321.0,82.3 321.0,80.4 321.3,80.4 321.3,78.5 321.6,78.5 321.7,78.5 321.7,77.5 321.9,77.5 321.9,76.4 321.9,75.6 322.1,75.6 322.1,74.5 322.2,74.5 322.7,74.5 322.7,71.7 322.9,71.7 322.9,70.8 323.0,70.8 323.0,70.0 323.0,69.2 323.3,69.2 323.3,67.9 323.7,67.9 323.9,67.9 323.9,67.2 323.9,66.0 324.3,66.0 324.8,66.0 324.8,64.6 325.2,64.6 325.2,63.5 325.2,62.3 325.6,62.3 325.6,61.5 325.8,61.5 326.4,61.5 326.4,59.9 326.4,58.7 326.8,58.7 326.8,58.0 327.0,58.0 327.0,56.9 327.6,56.9 328.3,56.9 328.3,55.4 329.0,55.4 329.0,53.9 329.0,53.4 329.3,53.4 329.6,53.4 329.6,52.8 329.6,52.1 329.9,52.1 329.9,51.6 330.2,51.6 330.2,50.7 330.6,50.7 331.0,50.7 331.0,50.0 331.0,49.3 331.3,49.3 331.3,48.4 331.7,48.4 332.5,48.4 332.5,46.3 333.1,46.3 333.1,44.8 333.1,44.1 333.4,44.1 333.4,43.5 333.6,43.5 333.9,43.5 333.9,42.8 334.3,42.8 334.3,41.9 334.3,40.6 334.7,40.6 334.7,40.0 335.0,40.0 335.4,40.0 335.4,39.4 335.4,38.9 335.8,38.9 335.8,37.9 336.6,37.9 336.6,37.3 337.0,37.3 337.0,36.5 337.6,36.5 338.6,36.5 338.6,35.0 338.6,34.5 339.0,34.5 339.0,34.0 339.7,34.0 340.6,34.0 340.6,33.3 341.0,33.3 341.0,33.0 341.0,32.5 341.7,32.5 341.7,32.0 342.4,32.0 342.4,31.4 343.2,31.4 343.2,30.9 343.7,30.9 345.0,30.9 345.0,30.0 345.0,29.3 345.9,29.3 345.9,28.3 347.3,28.3 347.9,28.3 347.9,27.8 348.6,27.8 348.6,27.3 348.6,26.9 349.1,26.9 349.1,26.3 349.9,26.3 349.9,25.9 350.4,25.9 350.4,25.5 351.0,25.5 352.2,25.5 352.2,25.1 352.2,24.6 353.4,24.6 353.4,24.4 354.1,24.4 354.1,23.9 355.5,23.9 355.5,23.6 356.3,23.6 356.3,23.4 356.9,23.4 356.9,23.0 358.0,23.0 358.0,22.8 358.9,22.8 358.9,22.6 359.7,22.6 359.7,22.2 361.1,22.2 361.1,21.9 362.4,21.9 362.4,21.5 364.0,21.5 365.0,21.5 365.0,21.2 365.0,21.0 366.2,21.0 366.2,20.8 367.4,20.8 367.4,20.6 368.9,20.6 368.9,20.4 370.3,20.4 371.2,20.4 371.2,20.3 371.2,20.2 372.0,20.2 372.8,20.2 372.8,20.0 372.8,19.7 374.8,19.7 374.8,19.6 375.8,19.6 375.8,19.3 377.4,19.3 378.3,19.3 378.3,19.2 378.3,18.9 380.3,18.9 381.3,18.9 381.3,18.8 381.3,18.5 382.8,18.5 382.8,18.4 383.9,18.4 385.0,18.4 385.0,18.2 386.6,18.2 386.6,18.0 387.3,18.0 387.3,17.9 387.3,17.6 389.1,17.6 389.1,17.5 389.9,17.5 389.9,17.1 392.8,17.1 392.8,16.9 394.0,16.9 395.2,16.9 395.2,16.7 396.2,16.7 396.2,16.6 396.2,16.5 397.1,16.5 397.1,16.4 397.9,16.4 397.9,16.2 399.0,16.2 399.0,16.1 400.2,16.1 400.2,16.0 401.1,16.0 401.1,15.9 403.3,15.9 403.3,15.7 405.2,15.7 405.2,15.6 406.6,15.6 407.5,15.6 407.5,15.5 408.6,15.5 410.3,15.5 410.3,15.4 410.3,15.3 411.8,15.3 411.8,15.2 413.2,15.2 413.2,15.1 414.5,15.1 414.5,15.0 415.7,15.0 415.7,14.9 416.5,14.9 416.5,14.8 417.8,14.8 418.8,14.8 418.8,14.7 419.9,14.7 419.9,14.6 421.5,14.6 421.5,14.5 422.8,14.5 422.8,14.4 423.7,14.4 423.7,14.3 425.0,14.3 426.8,14.3 427.9,14.3 429.0,14.3 429.0,14.2 430.1,14.2 431.6,14.2 434.1,14.2 436.6,14.2 437.8,14.2 437.8,14.1 439.7,14.1 440.7,14.1 441.7,14.1 444.1,14.1 444.1,14.0 448.4,14.0 450.2,14.0 451.6,14.0 452.6,14.0 453.6,14.0 455.2,14.0 456.7,14.0 456.7,13.9 457.8,13.9 459.5,13.9 461.1,13.9 462.0,13.9 462.9,13.9 463.9,13.9 463.9,13.8 464.8,13.8 466.5,13.8 468.2,13.8 469.3,13.8 470.6,13.8 471.9,13.8 474.3,13.8 474.3,13.7 475.3,13.7 476.3,13.7 477.6,13.7 478.8,13.7 479.7,13.7 480.6,13.7 481.6,13.7 481.6,13.6 482.6,13.6 484.3,13.6 485.6,13.6 487.9,13.6 488.8,13.6 490.2,13.6 490.2,13.5 491.3,13.5 492.2,13.5 493.0,13.5 494.5,13.5 496.2,13.5 497.4,13.5 498.4,13.5 499.5,13.5 499.5,13.4 500.5,13.4 502.0,13.4 503.1,13.4 504.4,13.4 505.7,13.4 506.7,13.4 508.1,13.4 508.1,13.3 509.5,13.3 510.7,13.3 512.1,13.3 514.1,13.3 515.0,13.3 516.4,13.3 516.4,13.2 517.8,13.2 519.4,13.2 520.8,13.2 522.3,13.2 523.2,13.2 524.2,13.2 524.2,13.1 526.3,13.1 528.1,13.1 529.8,13.1 531.9,13.1 532.9,13.1 534.2,13.1 535.2,13.1 535.2,13.0 536.4,13.0 537.4,13.0 538.7,13.0 539.5,13.0" stroke="#000080" stroke-width="2.05"/>
<polyline points="320.0,166.3 320.0,95.0 320.0,94.0 320.0,93.1 320.0,92.2 320.0,91.2 320.0,89.6 320.0,88.5 320.0,84.1 320.0,83.0 320.0,82.0 320.0,81.1 320.0,80.0 320.0,79.1 320.1,79.1 320.3,79.1 320.3,78.2 320.4,78.2 320.4,77.1 320.6,77.1 320.6,76.1 320.7,76.1 320.7,75.2 320.7,73.9 320.9,73.9 321.3,73.9 321.3,71.6 321.3,70.2 321.5,70.2 321.6,70.2 321.6,69.3 321.7,69.3 321.7,68.5 321.7,67.7 321.8,67.7 322.4,67.7 322.4,64.3 322.4,63.5 322.5,63.5 322.5,62.1 322.7,62.1 322.7,61.0 322.8,61.0 322.8,60.0 323.0,60.0 323.3,60.0 323.3,59.3 323.6,59.3 323.6,58.5 323.8,58.5 323.8,57.8 323.8,57.0 324.1,57.0 324.1,55.3 324.7,55.3 324.7,54.6 325.0,54.6 325.4,54.6 325.4,53.5 325.7,53.5 325.7,52.9 325.7,52.0 326.0,52.0 326.3,52.0 326.3,51.1 326.3,50.3 326.7,50.3 326.7,49.3 327.0,49.3 327.0,48.6 327.3,48.6 328.1,48.6 328.1,46.4 328.7,46.4 328.7,44.9 328.7,44.0 329.0,44.0 329.0,42.6 329.8,42.6 329.8,42.0 330.2,42.0 330.2,40.5 331.1,40.5 331.6,40.5 331.6,39.7 331.6,38.1 332.6,38.1 333.1,38.1 333.1,37.2 333.1,36.6 333.5,36.6 333.5,36.0 333.8,36.0 333.8,35.2 334.3,35.2 334.3,34.6 334.6,34.6 335.0,34.6 335.0,34.0 335.0,33.4 335.8,33.4 335.8,32.7 336.8,32.7 336.8,32.4 337.3,32.4 337.3,32.0 337.9,32.0 337.9,31.4 338.7,31.4 338.7,30.7 339.7,30.7 340.2,30.7 340.2,30.3 340.2,29.5 341.3,29.5 341.3,29.0 342.0,29.0 343.4,29.0 343.4,28.4 344.7,28.4 344.7,27.8 344.7,27.4 345.6,27.4 345.6,27.1 346.4,27.1 347.3,27.1 347.3,26.7 347.3,26.3 348.3,26.3 349.0,26.3 349.0,26.0 349.0,25.6 350.4,25.6 351.6,25.6 351.6,25.4 351.6,25.1 352.6,25.1 352.6,24.9 353.3,24.9 353.3,24.7 354.1,24.7 354.1,24.5 355.2,24.5 355.2,24.0 357.0,24.0 357.7,24.0 357.7,23.9 357.7,23.5 359.4,23.5 359.4,23.2 361.0,23.2 362.0,23.2 362.0,23.0 362.0,22.8 363.1,22.8 363.9,22.8 363.9,22.6 363.9,22.4 365.0,22.4 365.0,22.3 366.0,22.3 366.0,22.2 367.0,22.2 367.0,22.0 368.2,22.0 368.2,21.9 369.3,21.9 372.3,21.9 372.3,21.5 372.3,21.4 373.1,21.4 373.1,21.3 374.1,21.3 374.9,21.3 374.9,21.2 374.9,21.0 376.5,21.0 376.5,20.9 377.8,20.9 377.8,20.7 379.4,20.7 379.4,20.5 381.2,20.5 382.3,20.5 382.3,20.3 383.1,20.3 383.1,20.2 383.1,20.1 384.1,20.1 384.1,20.0 385.0,20.0 385.9,20.0 385.9,19.7 385.9,19.5 386.6,19.5 386.6,19.2 387.8,19.2 388.8,19.2 388.8,18.9 388.8,18.3 390.8,18.3 392.0,18.3 392.0,18.0 393.5,18.0 393.5,17.8 394.6,17.8 394.6,17.6 394.6,17.4 396.4,17.4 396.4,17.3 397.2,17.3 398.2,17.3 398.2,17.1 399.0,17.1 399.0,17.0 400.7,17.0 400.7,16.9 400.7,16.8 401.6,16.8 401.6,16.7 402.5,16.7 402.5,16.6 404.8,16.6 405.6,16.6 405.6,16.5 406.4,16.5 406.4,16.4 406.4,16.3 407.6,16.3 408.7,16.3 410.1,16.3 410.1,16.1 411.1,16.1 411.1,15.9 412.9,15.9 413.9,15.9 415.0,15.9 415.0,15.8 415.9,15.8 415.9,15.7 415.9,15.6 416.8,15.6 416.8,15.5 419.0,15.5 419.0,15.3 421.3,15.3 422.3,15.3 422.3,15.2 422.3,15.1 423.7,15.1 423.7,15.0 425.0,15.0 425.9,15.0 425.9,14.9 427.4,14.9 427.4,14.8 428.2,14.8 429.4,14.8 429.4,14.7 430.4,14.7 431.2,14.7 432.1,14.7 434.0,14.7 434.0,14.6 434.0,14.5 435.2,14.5 435.2,14.4 436.9,14.4 438.5,14.4 438.5,14.3 440.6,14.3 440.6,14.2 441.7,14.2 441.7,14.1 443.9,14.1 444.8,14.1 445.9,14.1 445.9,14.0 445.9,13.9 448.0,13.9 448.0,13.8 449.0,13.8 450.0,13.8 450.9,13.8 454.0,13.8 455.6,13.8 455.6,13.7 456.9,13.7 458.9,13.7 459.8,13.7 461.5,13.7 463.1,13.7 464.0,13.7 465.0,13.7 466.2,13.7 467.2,13.7 467.2,13.6 469.6,13.6 470.5,13.6 471.4,13.6 472.3,13.6 473.9,13.6 475.5,13.6 476.8,13.6 477.7,13.6 477.7,13.5 479.0,13.5 480.0,13.5 480.8,13.5 481.7,13.5 482.6,13.5 483.9,13.5 484.8,13.5 486.5,13.5 487.5,13.5 487.5,13.4 489.3,13.4 490.7,13.4 491.8,13.4 492.9,13.4 494.0,13.4 497.6,13.4 498.6,13.4 500.2,13.4 501.7,13.4 501.7,13.3 502.8,13.3 503.8,13.3 504.7,13.3 505.7,13.3 506.7,13.3 508.4,13.3 509.3,13.3 510.3,13.3 511.2,13.3 511.2,13.2 513.0,13.2 514.2,13.2 515.0,13.2 516.8,13.2 518.4,13.2 520.3,13.2 521.6,13.2 522.5,13.2 522.5,13.1 524.2,13.1 525.2,13.1 527.6,13.1 528.7,13.1 532.2,13.1 535.1,13.1 535.1,13.0 536.8,13.0 538.6,13.0 539.5,13.0" stroke="#00ffff" stroke-width="2.05"/>
<polyline points="320.0,166.3 320.0,96.0 320.0,95.2 320.0,94.5 320.0,92.2 320.0,91.1 320.2,91.1 320.2,90.0 320.3,90.0 320.4,90.0 320.4,88.8 320.4,88.0 320.5,88.0 320.5,87.1 320.6,87.1 320.6,85.7 320.8,85.7 320.8,84.0 321.0,84.0 321.0,83.1 321.3,83.1 321.3,81.1 322.0,81.1 322.0,79.7 322.4,79.7 322.7,79.7 322.7,79.0 322.7,77.6 323.1,77.6 323.6,77.6 323.6,76.2 323.6,75.5 323.8,75.5 323.8,74.6 324.1,74.6 324.1,73.8 324.4,73.8 324.7,73.8 324.7,72.9 324.7,72.0 325.0,72.0 325.9,72.0 325.9,70.1 325.9,69.0 326.5,69.0 327.1,69.0 327.1,67.8 327.1,67.2 327.4,67.2 327.9,67.2 327.9,66.1 327.9,65.4 328.3,65.4 328.9,65.4 328.9,64.1 329.2,64.1 329.2,63.6 329.5,63.6 329.5,62.9 330.0,62.9 330.0,62.1 330.3,62.1 330.3,61.4 330.3,60.8 330.6,60.8 330.6,60.0 331.0,60.0 331.0,58.9 331.3,58.9 331.3,58.0 331.5,58.0 331.5,56.7 331.8,56.7 331.8,55.8 332.0,55.8 332.0,54.9 332.3,54.9 332.3,53.0 332.8,53.0 332.8,52.0 333.0,52.0 333.5,52.0 333.5,50.4 333.5,49.7 333.8,49.7 334.0,49.7 334.0,49.1 334.0,48.1 334.3,48.1 334.3,47.1 334.6,47.1 334.6,46.0 335.0,46.0 335.0,44.7 335.5,44.7 335.5,43.8 335.8,43.8 335.8,41.9 336.5,41.9 336.5,41.3 336.7,41.3 336.7,40.3 337.1,40.3 337.4,40.3 337.4,39.4 337.6,39.4 337.6,38.8 337.9,38.8 337.9,38.0 338.3,38.0 338.3,36.8 338.3,35.9 338.7,35.9 339.0,35.9 339.0,35.0 339.0,34.4 340.3,34.4 341.3,34.4 341.3,33.8 341.3,33.5 342.0,33.5 342.0,32.7 343.5,32.7 343.5,32.4 344.2,32.4 345.0,32.4 345.0,32.0 345.0,31.3 345.6,31.3 345.6,30.6 346.2,30.6 346.2,29.7 347.0,29.7 347.0,28.7 347.8,28.7 348.3,28.7 348.3,28.1 348.3,27.3 349.0,27.3 349.5,27.3 349.5,26.7 349.5,26.2 350.0,26.2 350.0,25.0 351.0,25.0 351.0,24.7 351.8,24.7 351.8,24.3 352.6,24.3 352.6,23.8 353.7,23.8 354.6,23.8 354.6,23.5 354.6,23.0 355.8,23.0 356.6,23.0 356.6,22.6 358.0,22.6 358.0,22.0 359.0,22.0 359.0,21.7 359.0,21.4 360.3,21.4 361.9,21.4 361.9,20.9 361.9,20.7 362.7,20.7 362.7,20.4 363.7,20.4 363.7,20.0 365.0,20.0 365.0,19.7 366.5,19.7 367.3,19.7 367.3,19.6 367.3,19.4 368.3,19.4 368.3,19.3 369.1,19.3 369.1,19.1 370.0,19.1 370.0,19.0 370.7,19.0 371.7,19.0 371.7,18.8 373.0,18.8 373.0,18.6 374.3,18.6 374.3,18.3 374.3,18.2 375.1,18.2 375.1,17.8 377.4,17.8 377.4,17.6 378.3,17.6 378.3,17.3 379.8,17.3 382.2,17.3 382.2,16.9 382.2,16.8 383.0,16.8 384.2,16.8 384.2,16.5 384.2,16.4 385.0,16.4 385.0,16.2 387.3,16.2 388.2,16.2 388.2,16.1 389.1,16.1 391.0,16.1 391.0,16.0 391.0,15.9 392.5,15.9 394.2,15.9 394.2,15.8 395.6,15.8 395.6,15.7 395.6,15.5 397.2,15.5 398.3,15.5 398.3,15.4 399.5,15.4 399.5,15.3 400.3,15.3 401.3,15.3 401.3,15.2 402.4,15.2 403.4,15.2 403.4,15.1 403.4,15.0 405.0,15.0 405.0,14.9 405.9,14.9 407.1,14.9 407.1,14.8 408.0,14.8 409.3,14.8 409.3,14.7 409.3,14.6 411.1,14.6 411.1,14.5 412.4,14.5 412.4,14.4 413.3,14.4 413.3,14.3 414.9,14.3 415.7,14.3 415.7,14.2 417.1,14.2 418.1,14.2 418.1,14.1 419.8,14.1 419.8,14.0 419.8,13.9 420.6,13.9 420.6,13.7 423.8,13.7 425.0,13.7 425.0,13.6 428.2,13.6 429.2,13.6 430.2,13.6 430.2,13.5 431.5,13.5 433.9,13.5 435.2,13.5 436.5,13.5 437.4,13.5 438.6,13.5 438.6,13.4 439.5,13.4 440.4,13.4 441.3,13.4 442.2,13.4 443.5,13.4 444.5,13.4 446.7,13.4 446.7,13.3 447.7,13.3 448.7,13.3 449.9,13.3 451.9,13.3 453.8,13.3 454.7,13.3 456.9,13.3 456.9,13.2 458.2,13.2 460.0,13.2 461.5,13.2 462.8,13.2 463.7,13.2 465.5,13.2 467.5,13.2 468.7,13.2 470.0,13.2 471.2,13.2 472.1,13.2 473.1,13.2 475.6,13.2 476.8,13.2 477.9,13.2 478.8,13.2 478.8,13.1 481.3,13.1 482.7,13.1 484.2,13.1 485.2,13.1 486.2,13.1 487.2,13.1 488.6,13.1 490.1,13.1 491.1,13.1 493.5,13.1 494.7,13.1 496.5,13.1 498.0,13.1 500.1,13.1 501.9,13.1 503.2,13.1 504.2,13.1 505.3,13.1 506.4,13.1 507.3,13.1 508.7,13.1 510.5,13.1 511.4,13.1 512.8,13.1 513.6,13.1 515.4,13.1 516.7,13.1 518.2,13.1 519.3,13.1 521.1,13.1 521.1,13.0 522.9,13.0 524.8,13.0 526.3,13.0 527.6,13.0 530.0,13.0 531.0,13.0 532.4,13.0 533.6,13.0 534.7,13.0 535.6,13.0 536.7,13.0 538.4,13.0 539.5,13.0" stroke="#ff8c00" stroke-width="2.05"/>
<line x1="319.4" y1="166.35" x2="539.2" y2="12.85" stroke="#000" stroke-width="2.05" stroke-dasharray="6.94 3.01" stroke-dashoffset="-1.5"/>
</g>
<rect x="319.4" y="5.17" width="219.8" height="161.18" fill="none" stroke="#000" stroke-width="0.9"/>
<line x1="319.40" y1="166.35" x2="319.40" y2="170.15" stroke="#000" stroke-width="0.9"/>
<line x1="319.4" y1="166.35" x2="315.59999999999997" y2="166.35" stroke="#000" stroke-width="0.9"/>
<text x="319.40" y="181.75" font-size="9.1" text-anchor="middle">0.0</text>
<text x="311.2" y="169.95" font-size="9.1" text-anchor="end">0.0</text>
<line x1="363.36" y1="166.35" x2="363.36" y2="170.15" stroke="#000" stroke-width="0.9"/>
<line x1="319.4" y1="135.65" x2="315.59999999999997" y2="135.65" stroke="#000" stroke-width="0.9"/>
<text x="363.36" y="181.75" font-size="9.1" text-anchor="middle">0.2</text>
<text x="311.2" y="139.25" font-size="9.1" text-anchor="end">0.2</text>
<line x1="407.32" y1="166.35" x2="407.32" y2="170.15" stroke="#000" stroke-width="0.9"/>
<line x1="319.4" y1="104.95" x2="315.59999999999997" y2="104.95" stroke="#000" stroke-width="0.9"/>
<text x="407.32" y="181.75" font-size="9.1" text-anchor="middle">0.4</text>
<text x="311.2" y="108.55" font-size="9.1" text-anchor="end">0.4</text>
<line x1="451.28" y1="166.35" x2="451.28" y2="170.15" stroke="#000" stroke-width="0.9"/>
<line x1="319.4" y1="74.25" x2="315.59999999999997" y2="74.25" stroke="#000" stroke-width="0.9"/>
<text x="451.28" y="181.75" font-size="9.1" text-anchor="middle">0.6</text>
<text x="311.2" y="77.85" font-size="9.1" text-anchor="end">0.6</text>
<line x1="495.24" y1="166.35" x2="495.24" y2="170.15" stroke="#000" stroke-width="0.9"/>
<line x1="319.4" y1="43.55" x2="315.59999999999997" y2="43.55" stroke="#000" stroke-width="0.9"/>
<text x="495.24" y="181.75" font-size="9.1" text-anchor="middle">0.8</text>
<text x="311.2" y="47.15" font-size="9.1" text-anchor="end">0.8</text>
<line x1="539.20" y1="166.35" x2="539.20" y2="170.15" stroke="#000" stroke-width="0.9"/>
<line x1="319.4" y1="12.85" x2="315.59999999999997" y2="12.85" stroke="#000" stroke-width="0.9"/>
<text x="539.20" y="181.75" font-size="9.1" text-anchor="middle">1.0</text>
<text x="311.2" y="16.45" font-size="9.1" text-anchor="end">1.0</text>
<text x="428.70" y="195.45" font-size="9.1" text-anchor="middle">False Positive Rate</text>
<text transform="translate(290.40,85.76) rotate(-90)" font-size="9.1" text-anchor="middle">True Positive Rate</text>
<text x="429.60" y="203.85" font-size="8.7" text-anchor="middle">(b)</text>
<line x1="374.59999999999997" y1="126.55" x2="389.79999999999995" y2="126.55" stroke="#ff1493" stroke-width="2.05"/>
<text x="394.5" y="129.01" font-size="6.83" class="lg">micro-average ROC curve (area = 0.96)</text>
<line x1="374.59999999999997" y1="136.65" x2="389.79999999999995" y2="136.65" stroke="#000080" stroke-width="2.05"/>
<text x="394.5" y="139.11" font-size="6.83" class="lg">macro-average ROC curve (area = 0.95)</text>
<line x1="374.59999999999997" y1="146.75" x2="389.79999999999995" y2="146.75" stroke="#00ffff" stroke-width="2.05"/>
<text x="394.5" y="149.21" font-size="6.83" class="lg">ROC curve of class 0 (area = 0.95)</text>
<line x1="374.59999999999997" y1="156.85" x2="389.79999999999995" y2="156.85" stroke="#ff8c00" stroke-width="2.05"/>
<text x="394.5" y="159.31" font-size="6.83" class="lg">ROC curve of class 1 (area = 0.95)</text>
<clipPath id="clipc"><rect x="40.45" y="210.02" width="219.8" height="161.18"/></clipPath>
<g clip-path="url(#clipc)" fill="none" stroke-linejoin="miter" stroke-linecap="butt">
<polyline points="41.1,371.0 41.1,310.0 41.1,308.9 41.1,307.9 41.1,306.6 41.1,305.5 41.1,304.3 41.1,302.3 41.1,301.2 41.1,300.1 41.1,297.3 41.2,297.3 41.2,296.3 41.3,296.3 41.3,295.1 41.3,292.6 41.4,292.6 41.4,291.0 41.5,291.0 41.5,288.7 41.6,288.7 41.6,287.2 41.7,287.2 41.7,285.2 41.8,285.2 41.8,283.6 41.9,283.6 41.9,282.0 42.0,282.0 42.0,281.1 42.2,281.1 42.2,279.9 42.4,279.9 42.6,279.9 42.6,279.0 42.6,276.2 43.2,276.2 43.5,276.2 43.5,275.2 43.5,274.2 43.7,274.2 43.8,274.2 43.8,273.4 43.8,272.4 44.1,272.4 44.1,271.3 44.3,271.3 44.3,270.4 44.5,270.4 44.5,268.0 45.0,268.0 45.2,268.0 45.2,267.2 45.2,265.9 45.6,265.9 45.6,263.9 46.3,263.9 46.7,263.9 46.7,262.4 46.7,261.6 47.0,261.6 47.5,261.6 47.5,259.9 47.9,259.9 47.9,258.7 47.9,257.5 48.2,257.5 48.5,257.5 48.5,256.5 48.5,255.8 48.8,255.8 48.8,255.0 49.0,255.0 49.0,253.1 49.7,253.1 49.7,251.0 50.5,251.0 50.5,250.3 50.7,250.3 50.7,249.4 51.1,249.4 51.1,248.1 51.6,248.1 51.6,247.0 52.0,247.0 52.0,246.0 52.3,246.0 52.3,245.3 52.6,245.3 52.6,244.2 52.8,244.2 53.1,244.2 53.1,242.2 53.3,242.2 53.3,240.9 53.3,240.0 54.2,240.0 54.2,239.3 55.0,239.3 56.1,239.3 56.1,238.2 56.1,237.3 56.9,237.3 57.7,237.3 57.7,236.6 57.7,235.6 58.4,235.6 58.4,234.6 59.2,234.6 59.9,234.6 59.9,233.6 59.9,232.5 60.7,232.5 60.7,231.9 61.2,231.9 61.2,230.8 62.0,230.8 62.0,230.4 62.7,230.4 64.2,230.4 64.2,229.7 64.2,229.2 65.1,229.2 66.4,229.2 66.4,228.6 66.4,228.3 68.6,228.3 68.6,228.2 69.9,228.2 69.9,228.1 70.8,228.1 70.8,227.9 72.1,227.9 72.1,227.3 73.5,227.3 75.2,227.3 75.2,226.7 75.2,226.3 76.2,226.3 76.2,226.0 77.0,226.0 78.3,226.0 78.3,225.5 78.3,225.0 79.4,225.0 79.4,224.8 81.0,224.8 81.0,224.7 82.3,224.7 82.3,224.5 84.0,224.5 84.0,224.4 85.1,224.4 86.4,224.4 86.4,224.3 86.4,224.0 89.0,224.0 89.0,223.9 90.4,223.9 90.4,223.8 91.6,223.8 93.6,223.8 93.6,223.5 93.6,223.4 94.6,223.4 94.6,223.3 96.0,223.3 96.0,223.0 98.3,223.0 100.1,223.0 100.1,222.7 101.4,222.7 101.4,222.5 101.4,222.2 103.3,222.2 103.3,222.1 104.5,222.1 104.5,221.9 105.5,221.9 105.5,221.8 106.4,221.8 108.7,221.8 108.7,221.5 109.7,221.5 109.7,221.4 111.1,221.4 111.1,221.2 112.2,221.2 112.2,221.1 113.1,221.1 113.1,221.0 113.1,220.8 114.6,220.8 114.6,220.6 116.5,220.6 116.5,220.4 117.5,220.4 119.0,220.4 119.0,220.3 119.0,220.0 120.9,220.0 122.7,220.0 122.7,219.8 123.7,219.8 123.7,219.7 123.7,219.6 125.5,219.6 126.6,219.6 126.6,219.5 127.6,219.5 129.1,219.5 129.1,219.4 130.3,219.4 130.3,219.3 130.3,219.1 132.5,219.1 132.5,219.0 133.9,219.0 134.8,219.0 134.8,218.8 136.5,218.8 136.5,218.7 138.5,218.7 138.5,218.6 140.0,218.6 141.6,218.6 143.5,218.6 143.5,218.5 146.5,218.5 147.6,218.5 147.6,218.4 148.8,218.4 150.3,218.4 151.6,218.4 151.6,218.3 153.5,218.3 154.9,218.3 156.0,218.3 156.9,218.3 156.9,218.2 158.0,218.2 159.2,218.2 161.6,218.2 162.8,218.2 162.8,218.1 163.8,218.1 166.3,218.1 167.7,218.1 167.7,218.0 170.0,218.0 171.5,218.0 173.0,218.0 174.3,218.0 176.0,218.0 177.1,218.0 179.0,218.0 180.6,218.0 182.0,218.0 183.1,218.0 184.5,218.0 184.5,217.9 187.7,217.9 189.3,217.9 190.3,217.9 191.4,217.9 192.6,217.9 193.7,217.9 195.4,217.9 196.6,217.9 197.7,217.9 199.0,217.9 201.1,217.9 202.3,217.9 203.4,217.9 204.8,217.9 206.6,217.9 208.7,217.9 211.6,217.9 212.7,217.9 213.7,217.9 214.9,217.9 214.9,217.8 216.8,217.8 218.5,217.8 219.5,217.8 220.7,217.8 221.7,217.8 222.9,217.8 224.4,217.8 225.5,217.8 227.9,217.8 231.5,217.8 233.2,217.8 234.7,217.8 236.3,217.8 240.2,217.8 242.9,217.8 244.3,217.8 245.3,217.8 245.3,217.7 246.5,217.7 247.6,217.7 248.5,217.7 249.6,217.7 252.0,217.7 254.1,217.7 255.4,217.7 257.5,217.7 259.3,217.7 260.5,217.7" stroke="#ff1493" stroke-width="2.05"/>
<polyline points="41.1,371.0 41.1,310.0 41.1,308.4 41.1,307.3 41.1,305.2 41.1,304.0 41.3,304.0 41.3,302.9 41.4,302.9 41.4,301.7 41.5,301.7 41.5,299.1 41.9,299.1 42.1,299.1 42.1,296.9 42.1,295.8 42.3,295.8 42.3,294.7 42.4,294.7 42.4,293.6 42.6,293.6 42.7,293.6 42.7,292.5 42.7,290.9 42.9,290.9 42.9,290.0 43.0,290.0 43.0,288.8 43.3,288.8 43.3,287.7 43.5,287.7 43.7,287.7 43.7,286.8 43.9,286.8 43.9,285.9 43.9,285.1 44.1,285.1 44.1,283.5 44.4,283.5 44.4,282.2 44.7,282.2 44.7,281.2 44.9,281.2 44.9,277.0 45.8,277.0 45.8,275.8 46.1,275.8 46.1,274.4 46.4,274.4 46.6,274.4 46.6,273.6 46.6,272.7 46.8,272.7 47.1,272.7 47.1,271.6 47.1,270.7 47.3,270.7 47.3,269.4 47.6,269.4 47.6,267.5 48.1,267.5 48.5,267.5 48.5,266.0 48.7,266.0 48.7,264.9 49.0,264.9 49.0,263.9 49.0,262.6 49.3,262.6 49.3,261.6 49.5,261.6 49.5,260.4 49.8,260.4 50.2,260.4 50.2,258.6 50.2,257.5 50.4,257.5 50.4,256.4 50.7,256.4 51.1,256.4 51.1,254.5 51.1,252.2 51.6,252.2 51.6,251.0 51.9,251.0 51.9,250.3 52.6,250.3 52.6,249.6 53.3,249.6 53.3,248.1 54.8,248.1 55.6,248.1 55.6,247.3 55.6,246.7 56.2,246.7 56.2,245.9 57.0,245.9 57.0,245.4 57.5,245.4 58.5,245.4 58.5,244.4 58.5,243.8 59.1,243.8 59.8,243.8 59.8,243.4 59.8,242.9 60.6,242.9 61.2,242.9 61.2,242.5 61.2,241.5 62.7,241.5 62.7,239.9 63.2,239.9 63.2,239.0 63.6,239.0 63.6,237.9 63.9,237.9 63.9,236.2 64.5,236.2 64.9,236.2 64.9,235.1 65.8,235.1 65.8,234.9 67.2,234.9 67.2,234.5 67.2,234.4 68.0,234.4 69.5,234.4 69.5,234.0 69.5,233.7 70.7,233.7 70.7,231.8 71.5,231.8 71.5,230.9 71.8,230.9 71.8,230.1 72.1,230.1 72.1,229.5 74.2,229.5 74.2,229.2 75.0,229.2 75.0,229.0 75.8,229.0 75.8,228.4 77.7,228.4 77.7,228.2 78.4,228.2 79.4,228.2 79.4,227.9 79.4,227.6 80.3,227.6 81.6,227.6 81.6,227.2 82.8,227.2 82.8,226.9 82.8,226.3 84.5,226.3 85.6,226.3 85.6,226.0 86.6,226.0 86.6,225.7 88.1,225.7 88.1,225.5 88.1,225.3 90.2,225.3 91.4,225.3 91.4,225.2 92.4,225.2 92.4,225.1 92.4,225.0 93.4,225.0 94.8,225.0 94.8,224.8 94.8,224.7 96.0,224.7 97.2,224.7 97.2,224.5 99.1,224.5 99.1,224.1 100.0,224.1 100.0,223.9 100.0,223.6 101.5,223.6 101.5,223.5 102.4,223.5 104.5,223.5 104.5,223.1 104.5,222.9 105.6,222.9 105.6,222.7 106.4,222.7 106.4,222.5 108.6,222.5 108.6,222.4 109.5,222.4 109.5,222.2 111.3,222.2 111.3,222.1 112.4,222.1 113.7,222.1 113.7,222.0 113.7,221.9 114.9,221.9 114.9,221.7 116.5,221.7 118.5,221.7 118.5,221.5 120.4,221.5 120.4,221.3 120.4,221.2 121.6,221.2 121.6,221.1 122.7,221.1 122.7,220.9 123.8,220.9 123.8,220.6 125.0,220.6 125.0,220.5 125.9,220.5 128.8,220.5 128.8,219.9 128.8,219.7 129.8,219.7 129.8,219.5 131.0,219.5 131.0,219.4 133.0,219.4 133.0,219.3 134.1,219.3 135.1,219.3 135.1,219.2 137.0,219.2 137.0,219.1 138.2,219.1 138.2,219.0 140.1,219.0 140.1,218.9 141.0,218.9 144.0,218.9 144.0,218.7 145.3,218.7 145.3,218.6 146.5,218.6 147.8,218.6 147.8,218.5 149.0,218.5 150.0,218.5 150.0,218.4 151.1,218.4 153.1,218.4 156.0,218.4 157.1,218.4 157.1,218.3 158.3,218.3 160.4,218.3 161.7,218.3 164.7,218.3 168.0,218.3 169.7,218.3 171.0,218.3 172.0,218.3 173.2,218.3 173.2,218.2 174.2,218.2 175.3,218.2 176.4,218.2 177.7,218.2 178.7,218.2 179.8,218.2 180.8,218.2 181.8,218.2 182.9,218.2 184.1,218.2 185.1,218.2 186.3,218.2 187.7,218.2 187.7,218.1 190.2,218.1 191.3,218.1 193.0,218.1 194.1,218.1 196.1,218.1 197.5,218.1 198.5,218.1 199.7,218.1 200.7,218.1 202.1,218.1 203.2,218.1 204.8,218.1 206.0,218.1 206.0,218.0 209.5,218.0 210.5,218.0 211.9,218.0 215.3,218.0 216.8,218.0 218.1,218.0 220.1,218.0 222.5,218.0 222.5,217.9 225.0,217.9 227.3,217.9 228.2,217.9 229.6,217.9 230.7,217.9 231.8,217.9 233.8,217.9 235.8,217.9 237.2,217.9 237.2,217.8 238.6,217.8 240.7,217.8 243.8,217.8 245.1,217.8 246.1,217.8 247.8,217.8 249.2,217.8 250.6,217.8 250.6,217.7 252.6,217.7 253.6,217.7 254.8,217.7 256.3,217.7 259.3,217.7 260.5,217.7" stroke="#000080" stroke-width="2.05"/>
<polyline points="41.1,371.0 41.1,305.0 41.1,304.1 41.1,303.2 41.1,301.5 41.1,299.9 41.1,298.9 41.1,297.8 41.2,297.8 41.6,297.8 41.6,294.5 41.6,293.5 41.6,291.7 41.8,291.7 41.8,290.6 41.9,290.6 42.1,290.6 42.1,288.6 42.1,287.0 42.3,287.0 42.3,286.0 42.4,286.0 42.4,285.0 42.5,285.0 42.5,282.9 42.8,282.9 42.8,281.3 43.0,281.3 43.2,281.3 43.2,280.1 43.4,280.1 43.4,278.5 43.4,277.5 43.6,277.5 43.6,276.0 43.8,276.0 43.8,275.1 43.9,275.1 43.9,274.1 44.1,274.1 44.2,274.1 44.2,272.9 44.2,270.9 44.5,270.9 44.7,270.9 44.7,269.8 45.5,269.8 45.5,266.8 45.8,266.8 45.8,266.0 46.0,266.0 46.0,265.1 46.3,265.1 46.3,264.3 46.3,263.5 46.5,263.5 46.5,262.0 47.0,262.0 47.0,260.5 47.4,260.5 47.6,260.5 47.6,259.7 47.6,258.1 48.1,258.1 48.4,258.1 48.4,256.9 48.8,256.9 48.8,255.7 48.8,254.9 49.0,254.9 49.0,253.9 49.3,253.9 49.5,253.9 49.5,253.1 49.8,253.1 49.8,252.1 49.8,249.6 50.5,249.6 50.8,249.6 50.8,247.7 50.8,246.6 51.0,246.6 51.0,244.8 51.3,244.8 51.3,243.8 51.4,243.8 51.4,242.8 51.6,242.8 51.6,240.9 51.9,240.9 51.9,240.1 52.4,240.1 52.4,239.3 52.8,239.3 52.8,238.2 53.5,238.2 54.4,238.2 54.4,236.7 54.4,236.0 54.8,236.0 54.8,235.3 55.3,235.3 55.3,233.7 56.2,233.7 56.2,233.1 56.7,233.1 56.7,231.7 57.8,231.7 58.4,231.7 58.4,231.1 59.1,231.1 59.1,230.2 59.1,229.3 59.9,229.3 59.9,228.8 60.5,228.8 61.3,228.8 61.3,228.3 61.3,227.2 62.7,227.2 62.7,227.0 65.1,227.0 65.1,226.9 66.6,226.9 66.6,226.8 67.7,226.8 68.6,226.8 68.6,226.7 69.9,226.7 69.9,226.5 72.1,226.5 73.4,226.5 73.4,226.4 74.7,226.4 76.1,226.4 77.1,226.4 77.1,226.3 78.5,226.3 78.5,226.2 81.1,226.2 81.1,226.1 82.6,226.1 83.8,226.1 83.8,226.0 85.6,226.0 87.0,226.0 88.4,226.0 91.8,226.0 91.8,225.8 93.4,225.8 94.5,225.8 94.5,225.7 96.0,225.7 96.0,225.6 97.2,225.6 97.2,225.4 98.2,225.4 99.2,225.4 99.2,225.3 99.2,225.2 100.4,225.2 101.9,225.2 101.9,225.0 101.9,224.7 103.9,224.7 106.0,224.7 106.0,224.5 107.6,224.5 108.6,224.5 111.0,224.5 112.3,224.5 113.4,224.5 117.0,224.5 118.7,224.5 120.8,224.5 122.6,224.5 122.6,224.4 123.6,224.4 125.2,224.4 126.8,224.4 128.0,224.4 129.1,224.4 132.0,224.4 133.1,224.4 134.2,224.4 135.6,224.4 137.3,224.4 138.3,224.4 138.3,223.5 138.7,223.5 138.7,222.2 139.2,222.2 139.5,222.2 139.5,221.5 139.5,221.3 142.6,221.3 143.8,221.3 143.8,221.2 143.8,221.1 145.1,221.1 145.1,220.9 147.5,220.9 147.5,220.8 148.8,220.8 148.8,220.7 150.4,220.7 150.4,220.6 151.3,220.6 152.3,220.6 152.3,220.5 153.4,220.5 153.4,220.4 155.1,220.4 155.1,220.3 156.3,220.3 157.7,220.3 157.7,220.2 158.6,220.2 158.6,220.1 158.6,220.0 160.0,220.0 161.2,220.0 161.2,219.9 162.5,219.9 163.7,219.9 163.7,219.8 165.0,219.8 165.0,219.7 168.0,219.7 169.4,219.7 169.4,219.6 170.4,219.6 171.5,219.6 171.5,219.5 172.9,219.5 173.9,219.5 173.9,219.4 176.6,219.4 177.7,219.4 182.7,219.4 182.7,219.2 183.7,219.2 184.8,219.2 184.8,219.1 185.9,219.1 185.9,219.0 187.4,219.0 188.7,219.0 190.6,219.0 190.6,218.9 192.1,218.9 192.1,218.8 193.1,218.8 194.6,218.8 195.9,218.8 195.9,218.7 197.4,218.7 197.4,218.6 198.6,218.6 200.0,218.6 202.4,218.6 202.4,218.5 203.4,218.5 204.5,218.5 205.9,218.5 207.4,218.5 208.5,218.5 209.5,218.5 209.5,218.4 211.5,218.4 212.4,218.4 214.3,218.4 215.8,218.4 215.8,218.3 217.8,218.3 220.5,218.3 223.5,218.3 225.7,218.3 225.7,218.2 227.2,218.2 228.6,218.2 228.6,218.1 230.4,218.1 231.9,218.1 233.6,218.1 234.6,218.1 235.8,218.1 235.8,218.0 237.8,218.0 239.2,218.0 241.1,218.0 242.4,218.0 242.4,217.9 244.6,217.9 245.6,217.9 246.9,217.9 248.4,217.9 250.0,217.9 251.3,217.9 251.3,217.8 252.3,217.8 255.5,217.8 256.8,217.8 256.8,217.7 258.1,217.7 259.5,217.7 260.5,217.7" stroke="#00ffff" stroke-width="2.05"/>
<polyline points="41.1,371.0 41.1,310.0 41.1,308.1 41.1,307.1 41.1,305.1 41.1,303.4 41.1,302.4 41.1,299.8 41.1,298.5 41.1,297.1 41.1,295.2 41.1,294.0 41.1,293.0 41.1,290.7 41.2,290.7 41.3,290.7 41.3,289.8 41.3,288.6 41.4,288.6 41.4,286.7 41.6,286.7 41.6,285.7 41.7,285.7 41.7,283.1 41.9,283.1 42.1,283.1 42.1,281.3 42.2,281.3 42.2,280.4 42.3,280.4 42.3,279.4 42.4,279.4 42.4,278.2 42.4,277.0 42.5,277.0 42.5,275.5 42.8,275.5 43.0,275.5 43.0,274.2 43.3,274.2 43.3,272.3 43.3,271.3 43.5,271.3 43.5,270.2 43.7,270.2 44.0,270.2 44.0,268.4 44.0,266.9 44.7,266.9 44.7,265.1 45.6,265.1 45.6,264.1 46.1,264.1 46.5,264.1 46.5,263.3 46.8,263.3 46.8,262.6 47.5,262.6 47.5,261.8 47.5,261.1 48.1,261.1 48.1,260.2 48.9,260.2 49.5,260.2 49.5,259.5 50.5,259.5 50.5,258.3 50.5,257.5 51.0,257.5 51.8,257.5 51.8,256.3 52.2,256.3 52.2,255.7 52.8,255.7 52.8,254.8 53.3,254.8 53.3,253.9 53.6,253.9 53.6,253.2 53.9,253.2 53.9,252.5 53.9,251.5 54.4,251.5 54.9,251.5 54.9,250.2 54.9,248.9 55.5,248.9 55.5,248.6 56.6,248.6 56.6,248.4 57.7,248.4 57.7,247.9 59.6,247.9 60.8,247.9 60.8,247.7 60.8,247.4 62.0,247.4 62.0,246.4 62.5,246.4 62.5,245.7 62.9,245.7 63.3,245.7 63.3,244.8 63.3,243.1 64.2,243.1 65.1,243.1 65.1,242.2 65.1,241.4 65.9,241.4 66.4,241.4 66.4,240.9 66.4,240.2 67.1,240.2 68.5,240.2 68.5,239.8 70.2,239.8 70.2,239.3 71.0,239.3 71.0,239.0 72.1,239.0 72.1,238.7 72.1,238.1 72.8,238.1 73.3,238.1 73.3,237.6 73.3,236.9 74.2,236.9 74.2,236.3 74.9,236.3 74.9,235.3 76.0,235.3 76.0,234.5 76.9,234.5 76.9,233.7 77.9,233.7 77.9,233.0 79.1,233.0 79.1,232.5 79.8,232.5 80.7,232.5 80.7,232.0 80.7,231.1 82.0,231.1 82.0,230.5 83.1,230.5 83.1,230.1 83.7,230.1 83.7,229.7 85.1,229.7 85.1,229.5 86.0,229.5 87.1,229.5 87.1,229.2 88.2,229.2 88.2,228.9 88.2,228.6 89.5,228.6 96.0,228.6 96.8,228.6 96.8,228.4 96.8,228.0 98.2,228.0 99.3,228.0 99.3,227.8 101.4,227.8 101.4,227.2 102.5,227.2 102.5,227.0 102.5,226.8 103.4,226.8 104.8,226.8 104.8,226.4 104.8,226.0 106.4,226.0 107.5,226.0 107.5,225.7 107.5,225.5 108.4,225.5 108.4,225.3 109.2,225.3 110.4,225.3 110.4,225.0 113.0,225.0 113.0,224.4 113.0,223.4 113.6,223.4 113.6,221.9 114.5,221.9 114.5,221.8 115.5,221.8 115.5,221.6 116.8,221.6 117.9,221.6 117.9,221.5 117.9,221.3 119.1,221.3 119.1,221.1 120.7,221.1 120.7,221.0 121.9,221.0 121.9,220.7 123.5,220.7 123.5,220.5 125.6,220.5 125.6,220.3 127.3,220.3 127.3,220.1 128.6,220.1 129.9,220.1 129.9,219.9 129.9,219.8 131.0,219.8 132.1,219.8 132.1,219.7 132.1,219.6 133.2,219.6 134.4,219.6 134.4,219.5 134.4,219.3 137.3,219.3 138.3,219.3 138.3,219.2 139.3,219.2 139.3,219.1 140.5,219.1 140.5,219.0 142.0,219.0 142.0,218.9 143.5,218.9 143.5,218.8 144.9,218.8 144.9,218.6 147.0,218.6 149.5,218.6 149.5,218.5 150.6,218.5 151.6,218.5 153.1,218.5 154.1,218.5 155.2,218.5 156.5,218.5 156.5,218.4 158.4,218.4 159.9,218.4 159.9,218.3 161.6,218.3 162.7,218.3 163.8,218.3 165.2,218.3 165.2,218.2 168.3,218.2 169.8,218.2 172.1,218.2 172.1,218.1 173.5,218.1 174.4,218.1 175.8,218.1 175.8,218.0 178.5,218.0 180.0,218.0 181.5,218.0 183.4,218.0 184.7,218.0 185.8,218.0 187.6,218.0 189.0,218.0 190.5,218.0 190.5,217.9 193.6,217.9 194.6,217.9 195.7,217.9 197.9,217.9 198.8,217.9 200.0,217.9 201.1,217.9 203.1,217.9 204.6,217.9 206.1,217.9 207.9,217.9 209.0,217.9 210.7,217.9 213.1,217.9 214.6,217.9 216.0,217.9 217.2,217.9 217.2,217.8 220.9,217.8 221.9,217.8 223.2,217.8 224.5,217.8 225.6,217.8 227.4,217.8 228.7,217.8 230.0,217.8 232.2,217.8 234.3,217.8 235.3,217.8 236.3,217.8 237.6,217.8 238.9,217.8 240.1,217.8 242.5,217.8 243.8,217.8 245.2,217.8 246.4,217.8 246.4,217.7 248.5,217.7 250.0,217.7 251.9,217.7 254.0,217.7 255.1,217.7 257.5,217.7 259.2,217.7 260.5,217.7" stroke="#ff8c00" stroke-width="2.05"/>
<polyline points="41.1,371.0 41.1,300.0 41.1,298.9 41.1,296.7 41.1,295.3 41.1,294.1 41.1,291.4 41.1,290.2 41.1,288.5 41.2,288.5 41.3,288.5 41.3,287.5 41.3,286.1 41.3,284.7 41.4,284.7 41.4,283.4 41.5,283.4 41.6,283.4 41.6,281.8 41.6,280.9 41.7,280.9 41.7,279.7 41.7,278.7 41.8,278.7 41.9,278.7 41.9,277.7 41.9,276.4 41.9,275.1 42.0,275.1 42.2,275.1 42.2,271.6 42.2,270.6 42.3,270.6 42.3,268.4 42.4,268.4 42.5,268.4 42.5,267.0 42.5,266.0 42.8,266.0 42.8,264.7 43.2,264.7 43.2,263.9 43.4,263.9 43.4,262.9 43.7,262.9 43.7,262.2 44.0,262.2 44.0,259.7 44.7,259.7 45.2,259.7 45.2,256.8 45.2,255.2 45.4,255.2 45.4,254.0 45.6,254.0 45.6,253.0 45.8,253.0 46.0,253.0 46.0,251.9 46.0,250.8 46.1,250.8 46.1,249.2 46.4,249.2 46.6,249.2 46.6,248.2 46.6,246.7 46.8,246.7 46.8,245.8 46.9,245.8 46.9,244.2 47.1,244.2 47.1,242.3 47.3,242.3 47.3,241.3 47.4,241.3 47.4,239.5 47.6,239.5 47.6,237.8 48.9,237.8 49.7,237.8 49.7,236.7 50.2,236.7 50.2,236.1 50.2,235.4 50.7,235.4 50.7,234.8 51.1,234.8 51.1,233.7 51.9,233.7 52.5,233.7 52.5,232.9 52.5,230.8 54.0,230.8 54.0,230.2 54.5,230.2 54.5,229.4 55.1,229.4 55.1,228.7 55.6,228.7 55.6,227.9 56.2,227.9 56.9,227.9 56.9,227.3 56.9,226.7 57.7,226.7 57.7,225.7 59.1,225.7 59.1,225.0 59.9,225.0 59.9,224.9 60.7,224.9 60.7,224.7 61.8,224.7 63.3,224.7 63.3,224.5 63.3,224.3 64.9,224.3 66.1,224.3 66.1,223.9 66.1,223.6 67.2,223.6 68.3,223.6 68.3,223.3 70.2,223.3 70.2,222.7 70.2,222.3 71.3,222.3 71.3,222.1 72.1,222.1 75.1,222.1 75.1,221.9 76.1,221.9 76.1,221.8 77.6,221.8 77.6,221.7 78.5,221.7 78.5,221.6 80.3,221.6 81.3,221.6 81.3,221.5 82.3,221.5 82.3,221.4 83.7,221.4 84.7,221.4 84.7,221.3 85.7,221.3 85.7,221.2 87.6,221.2 87.6,221.0 87.6,220.9 88.5,220.9 88.5,220.5 91.2,220.5 91.2,220.4 92.1,220.4 92.1,220.3 93.1,220.3 93.1,220.2 94.4,220.2 94.4,220.0 96.0,220.0 96.0,219.9 97.6,219.9 97.6,219.7 99.5,219.7 101.1,219.7 101.1,219.6 101.1,219.5 102.3,219.5 102.3,219.3 103.6,219.3 104.6,219.3 104.6,219.1 106.4,219.1 107.4,219.1 107.4,219.0 108.4,219.0 108.4,218.8 111.0,218.8 112.0,218.8 112.0,218.7 113.5,218.7 113.5,218.6 114.4,218.6 114.4,218.5 115.6,218.5 115.6,218.4 117.1,218.4 118.1,218.4 119.4,218.4 119.4,218.3 122.7,218.3 122.7,218.1 124.1,218.1 125.7,218.1 128.1,218.1 128.1,218.0 129.4,218.0 130.9,218.0 132.3,218.0 133.6,218.0 135.6,218.0 136.9,218.0 136.9,217.9 138.2,217.9 140.0,217.9 141.1,217.9 142.4,217.9 145.0,217.9 146.2,217.9 146.2,217.8 148.4,217.8 150.0,217.8 153.1,217.8 154.2,217.8 155.9,217.8 158.1,217.8 159.9,217.8 161.0,217.8 162.1,217.8 163.3,217.8 165.6,217.8 166.7,217.8 167.7,217.8 168.8,217.8 172.0,217.8 173.7,217.8 174.7,217.8 176.6,217.8 177.9,217.8 179.0,217.8 181.0,217.8 183.4,217.8 184.7,217.8 185.8,217.8 187.2,217.8 188.8,217.8 190.3,217.8 191.6,217.8 193.0,217.8 193.9,217.8 195.0,217.8 197.1,217.8 199.3,217.8 201.4,217.8 202.8,217.8 204.1,217.8 204.1,217.7 205.3,217.7 206.6,217.7 208.2,217.7 209.2,217.7 210.4,217.7 212.5,217.7 215.3,217.7 217.1,217.7 219.9,217.7 221.2,217.7 222.3,217.7 223.9,217.7 225.5,217.7 226.6,217.7 227.9,217.7 228.9,217.7 230.3,217.7 232.3,217.7 234.3,217.7 235.7,217.7 237.9,217.7 239.3,217.7 240.6,217.7 242.5,217.7 244.4,217.7 245.5,217.7 246.7,217.7 249.0,217.7 250.8,217.7 252.4,217.7 254.5,217.7 255.5,217.7 258.3,217.7 259.4,217.7 260.5,217.7" stroke="#6495ed" stroke-width="2.05"/>
<polyline points="41.1,371.0 41.1,294.3 47.6,294.3 47.6,275.2 53.0,275.2 53.0,256.0 62.7,256.0 62.7,236.9 71.9,236.9 71.9,217.7 260.5,217.7" stroke="#a52a2a" stroke-width="2.05"/>
<polyline points="41.1,371.0 41.1,312.0 41.1,311.1 41.1,310.3 41.1,309.1 41.1,306.8 41.5,306.8 41.9,306.8 41.9,305.2 42.1,305.2 42.1,304.0 42.1,302.6 42.4,302.6 42.4,300.6 42.8,300.6 42.8,299.8 43.0,299.8 43.0,298.7 43.2,298.7 43.5,298.7 43.5,297.6 43.5,295.5 44.1,295.5 44.4,295.5 44.4,294.6 44.4,293.6 44.7,293.6 44.7,292.4 45.0,292.4 45.0,291.2 45.4,291.2 45.9,291.2 45.9,289.4 46.1,289.4 46.1,288.6 46.5,288.6 46.5,287.4 46.5,286.7 46.7,286.7 46.7,284.7 47.4,284.7 47.4,283.8 47.7,283.8 47.7,282.9 48.0,282.9 48.0,281.1 48.6,281.1 48.6,280.0 49.0,280.0 49.0,279.2 49.4,279.2 49.8,279.2 49.8,278.4 49.8,277.2 50.4,277.2 51.0,277.2 51.0,276.0 51.0,274.2 51.9,274.2 52.3,274.2 52.3,273.4 52.3,272.3 52.9,272.3 52.9,271.5 53.3,271.5 54.4,271.5 54.4,269.3 54.4,268.4 54.8,268.4 54.8,266.7 55.5,266.7 55.5,265.4 56.0,265.4 56.0,264.3 56.4,264.3 56.4,263.3 56.8,263.3 56.8,262.5 57.2,262.5 57.2,261.2 57.7,261.2 57.7,260.5 58.3,260.5 58.3,259.6 59.1,259.6 59.7,259.6 59.7,258.8 59.7,258.2 60.3,258.2 60.3,257.1 61.2,257.1 61.2,256.4 61.9,256.4 62.7,256.4 62.7,255.4 62.7,253.8 63.7,253.8 63.7,253.1 64.1,253.1 64.1,252.5 64.6,252.5 64.6,251.7 65.0,251.7 65.0,250.5 65.8,250.5 65.8,249.6 66.4,249.6 66.4,248.8 66.7,248.8 67.0,248.8 67.0,247.8 67.7,247.8 67.7,245.4 67.7,244.2 68.1,244.2 68.1,243.1 68.5,243.1 68.5,242.7 69.5,242.7 69.5,241.9 71.2,241.9 72.2,241.9 72.2,241.5 72.2,241.2 72.9,241.2 72.9,240.9 73.6,240.9 74.6,240.9 74.6,240.3 76.1,240.3 76.1,239.3 76.1,238.8 77.0,238.8 77.0,238.4 77.6,238.4 77.6,237.9 78.4,237.9 78.4,237.3 79.4,237.3 79.4,236.8 80.2,236.8 81.5,236.8 81.5,236.0 82.5,236.0 82.5,235.4 82.5,234.8 83.4,234.8 83.4,234.3 84.2,234.3 84.2,233.7 85.2,233.7 85.2,233.1 86.7,233.1 88.3,233.1 88.3,232.4 89.1,232.4 89.1,232.1 89.1,231.7 90.0,231.7 90.0,231.1 91.6,231.1 91.6,230.7 92.6,230.7 93.9,230.7 93.9,230.2 93.9,229.8 94.7,229.8 94.7,229.3 96.1,229.3 97.5,229.3 97.5,228.8 97.5,228.5 98.2,228.5 100.1,228.5 100.1,228.1 101.1,228.1 101.1,227.9 101.1,227.5 103.1,227.5 103.1,227.2 104.3,227.2 104.3,227.0 105.3,227.0 106.4,227.0 106.4,226.8 107.7,226.8 107.7,226.5 108.5,226.5 108.5,226.4 110.2,226.4 110.2,226.1 110.2,225.8 111.5,225.8 113.3,225.8 113.3,225.4 113.3,225.2 114.5,225.2 116.1,225.2 116.1,224.9 116.9,224.9 116.9,224.7 116.9,224.5 117.9,224.5 117.9,224.2 119.5,224.2 119.5,223.7 121.6,223.7 122.7,223.7 122.7,223.5 123.7,223.5 123.7,223.4 123.7,223.3 124.7,223.3 124.7,223.2 126.2,223.2 128.1,223.2 128.1,223.0 128.1,222.8 129.3,222.8 131.3,222.8 131.3,222.7 131.3,222.5 132.8,222.5 134.1,222.5 134.1,222.4 135.5,222.4 135.5,222.2 135.5,222.1 136.6,222.1 136.6,221.9 139.0,221.9 140.7,221.9 140.7,221.6 141.6,221.6 141.6,221.4 141.6,221.1 143.0,221.1 143.0,220.8 144.7,220.8 145.8,220.8 145.8,220.6 145.8,220.3 147.3,220.3 148.8,220.3 150.0,220.3 150.0,220.2 151.0,220.2 153.5,220.2 153.5,220.1 155.0,220.1 156.2,220.1 157.3,220.1 157.3,220.0 159.0,220.0 160.1,220.0 161.0,220.0 161.0,219.9 162.4,219.9 163.5,219.9 165.4,219.9 165.4,219.8 167.6,219.8 169.4,219.8 169.4,219.7 170.6,219.7 172.9,219.7 174.8,219.7 174.8,219.6 177.3,219.6 177.3,219.5 178.9,219.5 180.0,219.5 181.0,219.5 183.0,219.5 184.0,219.5 186.8,219.5 186.8,219.4 188.4,219.4 189.5,219.4 190.8,219.4 192.2,219.4 193.6,219.4 195.6,219.4 197.3,219.4 199.0,219.4 200.8,219.4 201.8,219.4 201.8,219.3 203.7,219.3 205.7,219.3 207.0,219.3 208.1,219.3 210.8,219.3 212.4,219.3 213.6,219.3 213.6,219.2 215.2,219.2 216.1,219.2 217.7,219.2 218.7,219.2 220.5,219.2 221.6,219.2 224.5,219.2 225.7,219.2 226.7,219.2 227.9,219.2 227.9,219.1 229.1,219.1 230.2,219.1 232.8,219.1 234.3,219.1 235.8,219.1 238.1,219.1 239.3,219.1 242.1,219.1 242.1,219.0 243.2,219.0 244.9,219.0 246.7,219.0 248.8,219.0 250.0,219.0 250.0,218.8 251.4,218.8 252.8,218.8 252.8,218.6 252.8,218.4 253.9,218.4 253.9,218.1 255.6,218.1 255.6,217.9 257.0,217.9 258.3,217.9 258.3,217.8 258.3,217.7 260.5,217.7" stroke="#90ee90" stroke-width="2.05"/>
<polyline points="41.1,371.0 41.1,308.0" stroke="#00ffff" stroke-width="2.05"/>
<line x1="40.45" y1="371.2" x2="260.25" y2="217.70" stroke="#000" stroke-width="2.05" stroke-dasharray="6.94 3.01" stroke-dashoffset="-1.5"/>
</g>
<rect x="40.45" y="210.02" width="219.8" height="161.18" fill="none" stroke="#000" stroke-width="0.9"/>
<line x1="40.45" y1="371.2" x2="40.45" y2="375.0" stroke="#000" stroke-width="0.9"/>
<line x1="40.45" y1="371.20" x2="36.650000000000006" y2="371.20" stroke="#000" stroke-width="0.9"/>
<text x="40.45" y="386.59999999999997" font-size="9.1" text-anchor="middle">0.0</text>
<text x="32.25" y="374.80" font-size="9.1" text-anchor="end">0.0</text>
<line x1="84.41" y1="371.2" x2="84.41" y2="375.0" stroke="#000" stroke-width="0.9"/>
<line x1="40.45" y1="340.50" x2="36.650000000000006" y2="340.50" stroke="#000" stroke-width="0.9"/>
<text x="84.41" y="386.59999999999997" font-size="9.1" text-anchor="middle">0.2</text>
<text x="32.25" y="344.10" font-size="9.1" text-anchor="end">0.2</text>
<line x1="128.37" y1="371.2" x2="128.37" y2="375.0" stroke="#000" stroke-width="0.9"/>
<line x1="40.45" y1="309.80" x2="36.650000000000006" y2="309.80" stroke="#000" stroke-width="0.9"/>
<text x="128.37" y="386.59999999999997" font-size="9.1" text-anchor="middle">0.4</text>
<text x="32.25" y="313.40" font-size="9.1" text-anchor="end">0.4</text>
<line x1="172.33" y1="371.2" x2="172.33" y2="375.0" stroke="#000" stroke-width="0.9"/>
<line x1="40.45" y1="279.10" x2="36.650000000000006" y2="279.10" stroke="#000" stroke-width="0.9"/>
<text x="172.33" y="386.59999999999997" font-size="9.1" text-anchor="middle">0.6</text>
<text x="32.25" y="282.70" font-size="9.1" text-anchor="end">0.6</text>
<line x1="216.29" y1="371.2" x2="216.29" y2="375.0" stroke="#000" stroke-width="0.9"/>
<line x1="40.45" y1="248.40" x2="36.650000000000006" y2="248.40" stroke="#000" stroke-width="0.9"/>
<text x="216.29" y="386.59999999999997" font-size="9.1" text-anchor="middle">0.8</text>
<text x="32.25" y="252.00" font-size="9.1" text-anchor="end">0.8</text>
<line x1="260.25" y1="371.2" x2="260.25" y2="375.0" stroke="#000" stroke-width="0.9"/>
<line x1="40.45" y1="217.70" x2="36.650000000000006" y2="217.70" stroke="#000" stroke-width="0.9"/>
<text x="260.25" y="386.59999999999997" font-size="9.1" text-anchor="middle">1.0</text>
<text x="32.25" y="221.30" font-size="9.1" text-anchor="end">1.0</text>
<text x="149.75" y="400.3" font-size="9.1" text-anchor="middle">False Positive Rate</text>
<text transform="translate(11.45,290.61) rotate(-90)" font-size="9.1" text-anchor="middle">True Positive Rate</text>
<text x="156.05" y="411.10" font-size="8.7" text-anchor="middle">(c)</text>
<line x1="95.65" y1="301.10" x2="110.85000000000001" y2="301.10" stroke="#ff1493" stroke-width="2.05"/>
<text x="115.55" y="303.56" font-size="6.83" class="lg">micro-average ROC curve (area = 0.96)</text>
<line x1="95.65" y1="311.20" x2="110.85000000000001" y2="311.20" stroke="#000080" stroke-width="2.05"/>
<text x="115.55" y="313.66" font-size="6.83" class="lg">macro-average ROC curve (area = 0.95)</text>
<line x1="95.65" y1="321.30" x2="110.85000000000001" y2="321.30" stroke="#00ffff" stroke-width="2.05"/>
<text x="115.55" y="323.76" font-size="6.83" class="lg">ROC curve of class 0 (area = 0.95)</text>
<line x1="95.65" y1="331.40" x2="110.85000000000001" y2="331.40" stroke="#ff8c00" stroke-width="2.05"/>
<text x="115.55" y="333.86" font-size="6.83" class="lg">ROC curve of class 1 (area = 0.94)</text>
<line x1="95.65" y1="341.50" x2="110.85000000000001" y2="341.50" stroke="#6495ed" stroke-width="2.05"/>
<text x="115.55" y="343.96" font-size="6.83" class="lg">ROC curve of class 2 (area = 0.98)</text>
<line x1="95.65" y1="351.60" x2="110.85000000000001" y2="351.60" stroke="#a52a2a" stroke-width="2.05"/>
<text x="115.55" y="354.06" font-size="6.83" class="lg">ROC curve of class 3 (area = 0.96)</text>
<line x1="95.65" y1="361.70" x2="110.85000000000001" y2="361.70" stroke="#90ee90" stroke-width="2.05"/>
<text x="115.55" y="364.16" font-size="6.83" class="lg">ROC curve of class 4 (area = 0.92)</text>
<clipPath id="clipd"><rect x="319.4" y="210.02" width="219.8" height="161.18"/></clipPath>
<g clip-path="url(#clipd)" fill="none" stroke-linejoin="miter" stroke-linecap="butt">
<polyline points="320.0,371.0 320.0,290.0 320.0,288.6 320.0,286.5 320.0,285.3 320.0,282.9 320.0,280.7 320.0,279.4 320.1,279.4 320.1,278.4 320.1,277.1 320.2,277.1 320.2,276.0 320.3,276.0 320.3,274.9 320.3,273.2 320.4,273.2 320.4,272.0 320.5,272.0 320.5,270.7 320.5,269.7 320.6,269.7 320.7,269.7 320.7,266.8 320.7,265.1 320.8,265.1 320.8,263.9 320.9,263.9 321.0,263.9 321.0,262.0 321.0,260.6 321.3,260.6 321.3,259.7 321.4,259.7 321.4,258.6 321.6,258.6 321.6,255.8 322.1,255.8 322.1,254.5 322.3,254.5 322.3,253.1 322.6,253.1 322.8,253.1 322.8,251.8 323.1,251.8 323.1,250.2 323.3,250.2 323.3,248.9 323.5,248.9 323.5,248.0 323.5,247.1 323.8,247.1 323.8,246.3 324.1,246.3 324.5,246.3 324.5,245.3 324.9,245.3 324.9,244.0 324.9,242.7 325.4,242.7 325.4,241.0 326.0,241.0 326.8,241.0 326.8,239.7 327.2,239.7 327.2,238.9 327.2,238.0 327.8,238.0 328.2,238.0 328.2,237.3 328.2,236.5 328.7,236.5 329.5,236.5 329.5,235.1 329.5,234.2 330.1,234.2 330.1,232.6 331.0,232.6 331.0,231.9 331.5,231.9 332.2,231.9 332.2,230.8 332.2,230.1 332.6,230.1 332.6,229.3 333.1,229.3 333.1,228.3 334.1,228.3 334.7,228.3 334.7,227.7 334.7,227.1 335.3,227.1 336.7,227.1 336.7,225.7 336.7,225.4 337.5,225.4 337.5,224.9 338.7,224.9 339.5,224.9 339.5,224.6 341.6,224.6 341.6,223.7 341.6,223.1 343.0,223.1 343.9,223.1 343.9,222.8 346.4,222.8 346.4,222.3 346.4,222.1 347.4,222.1 347.4,221.9 348.3,221.9 348.3,221.7 349.6,221.7 349.6,221.4 351.1,221.4 351.1,221.1 352.7,221.1 354.1,221.1 354.1,220.8 354.1,220.6 355.1,220.6 357.0,220.6 357.0,220.2 358.5,220.2 358.5,220.1 358.5,220.0 359.8,220.0 359.8,219.9 362.2,219.9 364.6,219.9 364.6,219.8 364.6,219.7 365.5,219.7 366.5,219.7 366.5,219.6 367.5,219.6 369.1,219.6 369.1,219.5 370.2,219.5 370.2,219.4 371.7,219.4 371.7,219.3 372.6,219.3 372.6,219.2 375.0,219.2 377.9,219.2 377.9,219.1 379.6,219.1 381.0,219.1 382.0,219.1 382.0,219.0 382.9,219.0 384.1,219.0 385.1,219.0 387.4,219.0 387.4,218.9 390.0,218.9 391.1,218.9 391.1,218.8 392.6,218.8 393.9,218.8 393.9,218.7 395.3,218.7 398.1,218.7 399.3,218.7 399.3,218.6 400.9,218.6 402.0,218.6 403.1,218.6 404.6,218.6 404.6,218.5 405.7,218.5 406.7,218.5 407.7,218.5 407.7,218.4 409.2,218.4 410.6,218.4 412.1,218.4 415.5,218.4 415.5,218.3 417.7,218.3 419.0,218.3 419.0,218.2 420.0,218.2 421.7,218.2 423.6,218.2 425.3,218.2 427.0,218.2 428.1,218.2 429.2,218.2 432.1,218.2 432.1,218.1 433.5,218.1 436.3,218.1 437.7,218.1 438.8,218.1 440.1,218.1 442.7,218.1 444.7,218.1 445.7,218.1 447.8,218.1 448.8,218.1 450.4,218.1 451.7,218.1 452.8,218.1 454.1,218.1 454.1,218.0 455.9,218.0 458.0,218.0 459.2,218.0 461.3,218.0 463.8,218.0 465.4,218.0 466.4,218.0 468.6,218.0 470.2,218.0 471.5,218.0 473.6,218.0 475.2,218.0 476.1,218.0 477.7,218.0 479.6,218.0 479.6,217.9 481.2,217.9 482.3,217.9 484.6,217.9 485.6,217.9 486.8,217.9 488.8,217.9 490.1,217.9 492.1,217.9 493.3,217.9 494.6,217.9 496.2,217.9 497.8,217.9 499.0,217.9 500.1,217.9 501.6,217.9 502.9,217.9 502.9,217.8 504.5,217.8 506.3,217.8 507.6,217.8 508.8,217.8 509.8,217.8 512.8,217.8 514.0,217.8 515.0,217.8 516.2,217.8 517.2,217.8 519.0,217.8 521.4,217.8 523.3,217.8 524.3,217.8 525.4,217.8 526.4,217.8 526.4,217.7 528.8,217.7 530.0,217.7 533.5,217.7 534.7,217.7 537.4,217.7 538.5,217.7 539.5,217.7" stroke="#ff1493" stroke-width="2.05"/>
<polyline points="320.0,371.0 320.0,290.0 320.0,288.9 320.0,286.7 320.0,285.4 320.0,283.6 320.0,281.9 320.0,281.1 320.0,279.6 320.1,279.6 320.2,279.6 320.2,278.4 320.3,278.4 320.3,277.2 320.3,276.1 320.3,274.4 320.4,274.4 320.4,271.6 320.6,271.6 320.6,270.1 320.7,270.1 320.7,268.9 320.8,268.9 320.8,267.9 320.9,267.9 320.9,265.9 320.9,265.0 321.0,265.0 321.0,263.3 321.3,263.3 321.3,262.1 321.5,262.1 321.5,260.6 321.8,260.6 321.8,259.2 322.0,259.2 322.0,258.0 322.3,258.0 322.3,255.9 322.6,255.9 322.9,255.9 322.9,254.5 322.9,253.5 323.1,253.5 323.1,252.4 323.3,252.4 323.5,252.4 323.5,251.0 323.5,250.2 323.8,250.2 323.8,248.8 324.2,248.8 324.2,247.2 324.7,247.2 324.7,246.4 325.0,246.4 325.0,245.2 325.3,245.2 325.3,243.8 325.8,243.8 325.8,243.2 326.2,243.2 326.2,242.4 326.7,242.4 328.0,242.4 328.0,240.4 328.4,240.4 328.4,239.8 328.8,239.8 328.8,239.0 328.8,238.0 329.5,238.0 329.5,236.7 330.3,236.7 331.1,236.7 331.1,235.5 331.1,234.6 331.7,234.6 332.3,234.6 332.3,233.7 332.3,233.3 333.2,233.3 334.5,233.3 334.5,232.6 334.5,232.0 335.8,232.0 336.7,232.0 336.7,231.5 336.7,231.0 338.4,231.0 338.4,230.5 339.9,230.5 339.9,230.1 341.3,230.1 342.2,230.1 342.2,229.8 343.2,229.8 343.2,229.5 343.2,229.3 343.9,229.3 343.9,228.9 345.7,228.9 345.7,228.8 346.6,228.8 346.6,228.5 348.2,228.5 348.2,228.1 349.8,228.1 349.8,227.9 351.1,227.9 352.3,227.9 352.3,227.6 353.2,227.6 353.2,227.3 353.2,226.9 354.8,226.9 354.8,226.5 356.2,226.5 356.2,225.9 356.5,225.9 356.9,225.9 356.9,225.1 356.9,223.6 357.6,223.6 358.6,223.6 358.6,223.4 360.3,223.4 360.3,223.1 360.3,222.9 361.2,222.9 361.2,222.7 362.2,222.7 362.2,222.5 363.7,222.5 363.7,222.1 365.6,222.1 365.6,221.9 367.2,221.9 367.2,221.8 368.5,221.8 368.5,221.7 369.5,221.7 369.5,221.5 371.0,221.5 371.0,221.4 372.3,221.4 373.4,221.4 373.4,221.2 373.4,221.1 374.9,221.1 374.9,220.9 376.6,220.9 378.9,220.9 378.9,220.6 378.9,220.5 380.0,220.5 380.0,220.4 381.7,220.4 383.1,220.4 383.1,220.3 384.5,220.3 384.5,220.2 385.5,220.2 387.2,220.2 387.2,220.1 388.9,220.1 388.9,220.0 390.5,220.0 391.4,220.0 391.4,219.9 392.5,219.9 396.4,219.9 396.4,219.7 397.4,219.7 397.4,219.6 399.6,219.6 399.6,219.5 400.7,219.5 400.7,219.4 402.8,219.4 402.8,219.3 404.3,219.3 405.5,219.3 405.5,219.1 409.4,219.1 411.0,219.1 411.0,219.0 411.9,219.0 412.8,219.0 412.8,218.9 413.8,218.9 413.8,218.8 414.9,218.8 415.9,218.8 417.1,218.8 417.1,218.7 418.4,218.7 420.0,218.7 420.0,218.6 422.5,218.6 424.3,218.6 425.4,218.6 427.1,218.6 427.1,218.5 428.4,218.5 431.2,218.5 432.6,218.5 433.8,218.5 435.3,218.5 436.4,218.5 438.0,218.5 439.5,218.5 441.5,218.5 441.5,218.4 442.9,218.4 444.1,218.4 445.5,218.4 447.5,218.4 449.0,218.4 449.0,218.3 453.5,218.3 455.3,218.3 457.0,218.3 459.6,218.3 462.0,218.3 463.5,218.3 465.5,218.3 465.5,218.2 466.7,218.2 467.8,218.2 469.6,218.2 470.8,218.2 472.1,218.2 473.7,218.2 477.2,218.2 477.2,218.1 479.8,218.1 481.0,218.1 482.5,218.1 484.4,218.1 485.8,218.1 487.3,218.1 489.6,218.1 491.0,218.1 492.2,218.1 493.3,218.1 493.3,218.0 495.0,218.0 496.1,218.0 497.1,218.0 498.9,218.0 500.1,218.0 501.0,218.0 502.0,218.0 503.6,218.0 505.4,218.0 506.4,218.0 506.4,217.9 508.0,217.9 509.3,217.9 510.3,217.9 512.3,217.9 514.3,217.9 515.5,217.9 516.6,217.9 518.4,217.9 519.5,217.9 519.5,217.8 521.1,217.8 522.8,217.8 523.8,217.8 524.8,217.8 526.8,217.8 528.3,217.8 530.9,217.8 532.0,217.8 532.0,217.7 533.3,217.7 534.5,217.7 535.5,217.7 536.7,217.7 538.0,217.7 539.5,217.7" stroke="#000080" stroke-width="2.05"/>
<polyline points="320.0,371.0 320.0,290.0 320.0,288.8 320.0,286.7 320.0,283.6 320.0,282.5 320.0,281.4 320.0,279.8 320.0,278.9 320.0,276.8 320.0,275.8 320.0,274.6 320.0,273.4 320.0,271.0 320.0,269.8 320.1,269.8 320.1,268.9 320.2,268.9 320.2,267.3 320.2,266.3 320.4,266.3 320.4,263.9 320.5,263.9 320.5,262.8 320.5,261.9 320.6,261.9 320.6,260.9 320.6,258.7 320.8,258.7 320.8,257.8 320.8,256.7 320.9,256.7 320.9,255.2 321.0,255.2 321.1,255.2 321.1,254.2 321.1,251.1 321.3,251.1 321.3,249.6 321.4,249.6 321.5,249.6 321.5,248.0 321.5,247.2 321.7,247.2 321.7,245.3 322.2,245.3 322.2,244.3 322.5,244.3 322.8,244.3 322.8,243.1 322.8,242.0 323.0,242.0 323.2,242.0 323.2,241.3 323.7,241.3 323.7,239.5 323.7,238.3 324.0,238.3 324.0,237.2 324.4,237.2 324.6,237.2 324.6,236.4 324.6,235.6 324.8,235.6 324.8,233.4 325.4,233.4 325.4,232.2 325.8,232.2 325.8,231.3 326.6,231.3 326.6,230.5 327.3,230.5 327.3,230.0 327.7,230.0 327.7,229.3 328.3,229.3 329.5,229.3 329.5,227.9 329.5,226.7 329.8,226.7 329.8,225.9 330.0,225.9 330.0,224.9 330.2,224.9 330.2,224.1 330.4,224.1 330.4,223.3 330.6,223.3 330.6,221.2 331.0,221.2 331.5,221.2 331.5,219.2 332.3,219.2 332.3,218.8 333.0,218.8 333.0,218.4 333.0,217.6 334.5,217.6 539.5,217.7" stroke="#00ffff" stroke-width="2.05"/>
<polyline points="320.0,371.0 320.0,300.0 320.0,298.5 320.0,297.5 320.0,295.7 320.0,293.8 320.0,291.5 320.0,289.9 320.1,289.9 320.1,288.6 320.1,286.9 320.2,286.9 320.3,286.9 320.3,285.4 320.4,285.4 320.4,284.5 320.4,282.5 320.5,282.5 320.6,282.5 320.6,280.4 320.7,280.4 320.7,279.3 320.7,277.9 320.7,277.0 320.8,277.0 321.0,277.0 321.0,275.4 321.0,272.8 321.3,272.8 321.3,271.7 321.4,271.7 321.4,270.7 321.6,270.7 321.7,270.7 321.7,269.5 321.7,267.8 321.9,267.8 322.1,267.8 322.1,266.7 322.2,266.7 322.2,265.5 322.2,264.4 322.5,264.4 323.0,264.4 323.0,262.1 323.3,262.1 323.3,261.1 323.5,261.1 323.5,260.3 323.7,260.3 323.7,259.3 324.0,259.3 324.0,258.4 324.0,256.6 324.4,256.6 324.4,255.3 324.8,255.3 325.1,255.3 325.1,253.9 325.1,253.0 325.5,253.0 325.9,253.0 325.9,251.8 325.9,251.0 326.2,251.0 326.2,249.7 326.7,249.7 326.7,248.1 327.3,248.1 328.1,248.1 328.1,246.9 328.5,246.9 328.5,246.1 328.9,246.1 328.9,245.4 328.9,244.5 329.5,244.5 330.1,244.5 330.1,243.4 330.1,241.8 330.8,241.8 330.8,241.0 331.2,241.0 331.2,240.2 331.6,240.2 331.6,238.9 332.3,238.9 332.3,238.2 332.6,238.2 333.5,238.2 333.5,236.6 333.5,235.9 333.8,235.9 333.8,235.1 334.8,235.1 334.8,234.2 335.8,234.2 335.8,233.2 336.9,233.2 336.9,232.7 337.5,232.7 337.5,232.2 338.1,232.2 338.1,231.6 338.9,231.6 338.9,231.0 339.7,231.0 340.9,231.0 340.9,230.1 340.9,229.3 342.0,229.3 342.0,228.8 342.7,228.8 342.7,227.9 343.9,227.9 343.9,227.5 345.7,227.5 345.7,227.3 347.2,227.3 347.2,227.1 348.2,227.1 348.2,226.9 349.0,226.9 349.0,226.5 351.1,226.5 352.5,226.5 352.5,225.9 352.5,225.6 353.2,225.6 353.9,225.6 353.9,225.3 355.1,225.3 355.1,224.8 355.1,224.3 356.2,224.3 357.7,224.3 357.7,224.2 357.7,223.9 360.4,223.9 360.4,223.8 361.5,223.8 361.5,223.7 362.7,223.7 362.7,223.6 364.2,223.6 364.2,223.5 365.1,223.5 365.1,223.3 366.4,223.3 366.4,223.1 367.5,223.1 368.7,223.1 368.7,223.0 370.0,223.0 370.0,222.8 371.3,222.8 371.3,222.6 372.2,222.6 372.2,222.5 372.2,222.1 375.0,222.1 376.5,222.1 376.5,221.9 377.4,221.9 377.4,221.8 377.4,221.7 378.5,221.7 380.1,221.7 380.1,221.5 381.2,221.5 381.2,221.3 383.6,221.3 383.6,221.0 384.8,221.0 384.8,220.9 384.8,220.7 385.9,220.7 385.9,220.6 386.9,220.6 386.9,220.2 390.0,220.2 390.9,220.2 390.9,220.1 390.9,219.9 392.8,219.9 392.8,219.8 393.7,219.8 395.0,219.8 395.0,219.6 395.9,219.6 398.1,219.6 398.1,219.5 398.1,219.3 401.6,219.3 402.6,219.3 403.6,219.3 403.6,219.2 404.5,219.2 404.5,219.1 406.7,219.1 408.1,219.1 408.1,219.0 409.4,219.0 411.2,219.0 411.2,218.9 412.4,218.9 413.7,218.9 413.7,218.8 414.9,218.8 416.0,218.8 416.0,218.6 418.9,218.6 420.0,218.6 420.0,218.5 422.0,218.5 422.9,218.5 422.9,218.4 424.3,218.4 426.0,218.4 426.0,218.3 427.6,218.3 427.6,218.2 428.8,218.2 430.0,218.2 431.0,218.2 433.4,218.2 434.4,218.2 436.4,218.2 437.5,218.2 439.3,218.2 440.6,218.2 442.8,218.2 442.8,218.1 444.0,218.1 445.0,218.1 446.1,218.1 447.2,218.1 448.7,218.1 451.4,218.1 452.6,218.1 453.9,218.1 455.9,218.1 456.9,218.1 458.0,218.1 459.1,218.1 460.2,218.1 462.7,218.1 464.7,218.1 464.7,218.0 466.2,218.0 467.3,218.0 469.2,218.0 470.6,218.0 471.7,218.0 472.7,218.0 475.2,218.0 476.7,218.0 478.0,218.0 480.5,218.0 482.5,218.0 483.8,218.0 483.8,217.9 485.2,217.9 486.8,217.9 488.4,217.9 489.4,217.9 490.5,217.9 492.1,217.9 494.2,217.9 495.5,217.9 497.2,217.9 498.4,217.9 499.4,217.9 502.3,217.9 504.0,217.9 505.5,217.9 506.6,217.9 508.1,217.9 508.1,217.8 509.2,217.8 510.6,217.8 512.3,217.8 513.7,217.8 515.3,217.8 516.5,217.8 519.1,217.8 520.3,217.8 521.5,217.8 524.3,217.8 525.6,217.8 526.7,217.8 526.7,217.7 530.0,217.7 531.5,217.7 533.1,217.7 535.4,217.7 538.2,217.7 539.5,217.7" stroke="#ff8c00" stroke-width="2.05"/>
<polyline points="320.0,371.0 320.0,280.0 320.0,279.1 320.0,277.9 320.0,275.7 320.0,274.8 320.0,273.8 320.0,272.6 320.0,271.1 320.0,268.9 320.1,268.9 320.1,267.6 320.2,267.6 320.2,265.6 320.3,265.6 320.3,263.3 320.4,263.3 320.5,263.3 320.5,262.4 320.5,261.4 320.5,260.2 320.6,260.2 320.6,259.0 320.7,259.0 320.7,257.7 320.8,257.7 320.8,255.7 320.8,254.8 320.9,254.8 320.9,252.9 321.0,252.9 321.1,252.9 321.1,250.6 321.1,248.7 321.2,248.7 321.3,248.7 321.3,247.5 321.3,244.7 321.4,244.7 321.4,243.8 321.5,243.8 321.5,241.7 322.2,241.7 322.2,240.8 322.5,240.8 322.5,239.7 322.9,239.7 323.4,239.7 323.4,238.1 323.7,238.1 323.7,237.3 323.7,236.4 324.0,236.4 324.0,235.1 324.4,235.1 325.1,235.1 325.1,234.0 325.1,233.5 325.5,233.5 325.5,232.7 326.0,232.7 326.0,231.8 326.6,231.8 326.6,230.8 327.3,230.8 327.3,230.0 328.0,230.0 328.0,229.3 328.5,229.3 329.2,229.3 329.2,228.5 329.2,227.8 329.8,227.8 330.9,227.8 330.9,226.5 330.9,225.4 332.4,225.4 332.4,224.9 333.0,224.9 333.8,224.9 333.8,224.3 334.7,224.3 334.7,223.8 334.7,223.2 335.9,223.2 336.7,223.2 336.7,222.8 336.7,222.6 337.8,222.6 337.8,222.3 339.4,222.3 340.8,222.3 340.8,222.0 340.8,221.8 342.0,221.8 343.9,221.8 343.9,221.4 345.4,221.4 345.4,221.2 346.9,221.2 346.9,221.1 346.9,220.9 348.8,220.9 349.7,220.9 349.7,220.8 349.7,220.6 351.2,220.6 351.2,220.3 353.9,220.3 355.0,220.3 355.0,220.2 355.0,220.1 355.9,220.1 357.0,220.1 357.0,220.0 395.0,220.4 434.0,220.7 434.7,220.7 434.7,220.4 434.7,219.8 436.0,219.8 437.7,219.8 439.0,219.8 440.5,219.8 440.5,219.7 441.4,219.7 443.4,219.7 445.1,219.7 446.3,219.7 449.3,219.7 449.3,219.6 450.6,219.6 452.0,219.6 452.0,219.2 452.9,219.2 454.1,219.2 454.1,218.6 454.1,218.2 455.0,218.2 456.0,218.2 458.0,218.2 459.2,218.2 460.5,218.2 461.8,218.2 463.3,218.2 463.3,218.1 464.9,218.1 466.8,218.1 468.4,218.1 469.6,218.1 471.9,218.1 472.9,218.1 475.1,218.1 476.4,218.1 478.0,218.1 481.5,218.1 481.5,218.0 484.3,218.0 485.8,218.0 487.1,218.0 488.2,218.0 489.4,218.0 490.5,218.0 491.9,218.0 493.9,218.0 495.2,218.0 496.6,218.0 496.6,217.9 499.3,217.9 500.3,217.9 501.8,217.9 504.0,217.9 505.8,217.9 506.8,217.9 507.8,217.9 509.1,217.9 510.7,217.9 512.2,217.9 513.4,217.9 514.4,217.9 514.4,217.8 515.5,217.8 517.3,217.8 520.4,217.8 521.6,217.8 523.3,217.8 524.9,217.8 526.8,217.8 527.9,217.8 529.2,217.8 530.4,217.8 530.4,217.7 532.9,217.7 534.0,217.7 535.0,217.7 536.2,217.7 539.5,217.7" stroke="#6495ed" stroke-width="2.05"/>
<polyline points="320.0,371.0 320.0,300.0 321.5,259.7 324.0,236.9 357.0,236.9 357.0,217.7 539.5,217.7" stroke="#a52a2a" stroke-width="2.05"/>
<polyline points="320.0,371.0 320.0,312.0 320.0,310.9 320.0,310.0 320.0,308.9 320.0,307.4 320.0,306.5 320.0,302.6 320.4,302.6 320.6,302.6 320.6,300.8 320.6,299.7 320.7,299.7 320.8,299.7 320.8,298.7 320.8,296.0 320.9,296.0 320.9,295.1 321.0,295.1 321.0,293.9 321.1,293.9 321.1,292.3 321.1,290.3 321.3,290.3 321.3,287.4 321.4,287.4 321.4,285.6 321.5,285.6 321.6,285.6 321.6,284.5 321.6,283.2 321.7,283.2 321.7,282.1 321.7,280.5 321.8,280.5 321.8,279.4 321.8,278.3 321.9,278.3 321.9,276.7 322.0,276.7 322.1,276.7 322.1,275.3 322.1,274.0 322.1,272.7 322.2,272.7 322.2,271.8 322.4,271.8 322.7,271.8 322.7,270.9 322.9,270.9 322.9,270.0 322.9,268.4 323.3,268.4 323.3,267.0 323.6,267.0 323.6,265.0 324.1,265.0 324.1,262.9 324.7,262.9 324.7,262.0 324.9,262.0 324.9,261.2 325.1,261.2 326.2,261.2 326.2,259.1 326.2,258.3 326.6,258.3 327.0,258.3 327.0,257.4 327.5,257.4 327.5,256.4 327.5,255.4 328.0,255.4 328.7,255.4 328.7,254.7 329.3,254.7 329.3,254.1 330.4,254.1 330.4,253.0 331.6,253.0 331.6,251.7 331.6,251.0 332.3,251.0 333.1,251.0 333.1,250.2 333.1,249.3 334.1,249.3 334.1,248.5 334.8,248.5 334.8,247.9 335.5,247.9 336.7,247.9 336.7,246.7 336.7,245.3 338.4,245.3 338.4,244.8 339.0,244.8 339.0,244.1 339.9,244.1 339.9,243.4 340.8,243.4 340.8,242.9 341.4,242.9 342.2,242.9 342.2,242.3 342.2,241.5 343.1,241.5 343.1,240.9 343.9,240.9 343.9,240.1 345.0,240.1 345.0,239.7 345.6,239.7 345.6,239.4 346.1,239.4 346.1,238.8 347.0,238.8 347.0,238.1 347.9,238.1 347.9,237.8 348.4,237.8 348.4,237.1 349.4,237.1 349.4,235.9 351.1,235.9 351.1,235.4 352.3,235.4 352.3,235.2 353.1,235.2 353.1,234.7 354.4,234.7 355.7,234.7 355.7,234.2 355.7,233.7 357.0,233.7 357.6,233.7 357.6,232.6 357.6,231.6 358.2,231.6 358.6,231.6 358.6,230.9 358.9,230.9 358.9,230.2 358.9,228.6 359.8,228.6 359.8,228.2 360.4,228.2 360.4,227.5 361.4,227.5 361.4,226.8 362.5,226.8 362.5,226.4 363.2,226.4 364.2,226.4 364.2,225.7 365.5,225.7 365.5,225.4 367.8,225.4 367.8,224.9 369.0,224.9 369.0,224.6 369.0,224.4 370.0,224.4 370.0,224.1 371.4,224.1 372.4,224.1 372.4,223.9 372.4,223.7 373.2,223.7 373.2,223.5 374.0,223.5 374.0,223.2 375.8,223.2 375.8,222.7 378.0,222.7 378.0,222.6 379.0,222.6 381.0,222.6 381.0,222.4 381.0,222.3 382.1,222.3 383.9,222.3 383.9,222.1 383.9,222.0 385.3,222.0 385.3,221.9 386.5,221.9 386.5,221.7 388.3,221.7 388.3,221.5 390.1,221.5 391.5,221.5 391.5,221.4 391.5,221.2 393.0,221.2 393.0,221.1 394.5,221.1 395.5,221.1 395.5,221.0 397.3,221.0 397.3,220.9 398.6,220.9 398.6,220.8 398.6,220.7 399.8,220.7 399.8,220.6 401.1,220.6 401.1,220.5 402.8,220.5 404.6,220.5 404.6,220.4 404.6,220.2 406.3,220.2 406.3,220.1 407.9,220.1 409.3,220.1 409.3,220.0 409.3,219.9 411.4,219.9 412.5,219.9 412.5,219.8 412.5,219.7 414.8,219.7 414.8,219.6 415.9,219.6 417.0,219.6 418.6,219.6 418.6,219.5 418.6,219.4 420.4,219.4 421.4,219.4 421.4,219.3 422.5,219.3 422.5,219.2 423.5,219.2 424.9,219.2 427.2,219.2 427.2,219.0 428.2,219.0 430.3,219.0 430.3,218.9 430.3,218.8 431.5,218.8 433.5,218.8 433.5,218.7 433.5,218.6 435.5,218.6 436.5,218.6 437.6,218.6 437.6,218.5 439.1,218.5 440.4,218.5 442.1,218.5 442.1,218.4 443.2,218.4 444.8,218.4 445.8,218.4 445.8,218.3 448.9,218.3 450.8,218.3 453.2,218.3 453.2,218.2 454.4,218.2 456.6,218.2 457.8,218.2 457.8,218.1 458.9,218.1 460.0,218.1 461.6,218.1 462.8,218.1 464.3,218.1 465.3,218.1 466.8,218.1 468.2,218.1 468.2,218.0 469.9,218.0 472.5,218.0 473.8,218.0 475.3,218.0 476.3,218.0 478.5,218.0 480.3,218.0 481.3,218.0 482.3,218.0 484.3,218.0 485.4,218.0 488.0,218.0 489.4,218.0 489.4,217.9 490.6,217.9 491.6,217.9 493.0,217.9 496.3,217.9 497.9,217.9 498.9,217.9 501.3,217.9 502.6,217.9 503.6,217.9 506.4,217.9 507.4,217.9 508.4,217.9 509.8,217.9 509.8,217.8 512.4,217.8 513.8,217.8 516.0,217.8 517.1,217.8 518.1,217.8 519.3,217.8 521.0,217.8 522.9,217.8 524.1,217.8 529.4,217.8 529.4,217.7 530.5,217.7 531.7,217.7 533.4,217.7 534.4,217.7 535.6,217.7 536.5,217.7 537.9,217.7 539.5,217.7" stroke="#90ee90" stroke-width="2.05"/>
<polyline points="320.0,371.0 320.0,341.0" stroke="#ff8c00" stroke-width="2.05"/>
<line x1="319.4" y1="371.2" x2="539.2" y2="217.70" stroke="#000" stroke-width="2.05" stroke-dasharray="6.94 3.01" stroke-dashoffset="-1.5"/>
</g>
<rect x="319.4" y="210.02" width="219.8" height="161.18" fill="none" stroke="#000" stroke-width="0.9"/>
<line x1="319.40" y1="371.2" x2="319.40" y2="375.0" stroke="#000" stroke-width="0.9"/>
<line x1="319.4" y1="371.20" x2="315.59999999999997" y2="371.20" stroke="#000" stroke-width="0.9"/>
<text x="319.40" y="386.59999999999997" font-size="9.1" text-anchor="middle">0.0</text>
<text x="311.2" y="374.80" font-size="9.1" text-anchor="end">0.0</text>
<line x1="363.36" y1="371.2" x2="363.36" y2="375.0" stroke="#000" stroke-width="0.9"/>
<line x1="319.4" y1="340.50" x2="315.59999999999997" y2="340.50" stroke="#000" stroke-width="0.9"/>
<text x="363.36" y="386.59999999999997" font-size="9.1" text-anchor="middle">0.2</text>
<text x="311.2" y="344.10" font-size="9.1" text-anchor="end">0.2</text>
<line x1="407.32" y1="371.2" x2="407.32" y2="375.0" stroke="#000" stroke-width="0.9"/>
<line x1="319.4" y1="309.80" x2="315.59999999999997" y2="309.80" stroke="#000" stroke-width="0.9"/>
<text x="407.32" y="386.59999999999997" font-size="9.1" text-anchor="middle">0.4</text>
<text x="311.2" y="313.40" font-size="9.1" text-anchor="end">0.4</text>
<line x1="451.28" y1="371.2" x2="451.28" y2="375.0" stroke="#000" stroke-width="0.9"/>
<line x1="319.4" y1="279.10" x2="315.59999999999997" y2="279.10" stroke="#000" stroke-width="0.9"/>
<text x="451.28" y="386.59999999999997" font-size="9.1" text-anchor="middle">0.6</text>
<text x="311.2" y="282.70" font-size="9.1" text-anchor="end">0.6</text>
<line x1="495.24" y1="371.2" x2="495.24" y2="375.0" stroke="#000" stroke-width="0.9"/>
<line x1="319.4" y1="248.40" x2="315.59999999999997" y2="248.40" stroke="#000" stroke-width="0.9"/>
<text x="495.24" y="386.59999999999997" font-size="9.1" text-anchor="middle">0.8</text>
<text x="311.2" y="252.00" font-size="9.1" text-anchor="end">0.8</text>
<line x1="539.20" y1="371.2" x2="539.20" y2="375.0" stroke="#000" stroke-width="0.9"/>
<line x1="319.4" y1="217.70" x2="315.59999999999997" y2="217.70" stroke="#000" stroke-width="0.9"/>
<text x="539.20" y="386.59999999999997" font-size="9.1" text-anchor="middle">1.0</text>
<text x="311.2" y="221.30" font-size="9.1" text-anchor="end">1.0</text>
<text x="428.70" y="400.3" font-size="9.1" text-anchor="middle">False Positive Rate</text>
<text transform="translate(290.40,290.61) rotate(-90)" font-size="9.1" text-anchor="middle">True Positive Rate</text>
<text x="429.60" y="411.10" font-size="8.7" text-anchor="middle">(d)</text>
<line x1="374.59999999999997" y1="301.10" x2="389.79999999999995" y2="301.10" stroke="#ff1493" stroke-width="2.05"/>
<text x="394.5" y="303.56" font-size="6.83" class="lg">micro-average ROC curve (area = 0.98)</text>
<line x1="374.59999999999997" y1="311.20" x2="389.79999999999995" y2="311.20" stroke="#000080" stroke-width="2.05"/>
<text x="394.5" y="313.66" font-size="6.83" class="lg">macro-average ROC curve (area = 0.97)</text>
<line x1="374.59999999999997" y1="321.30" x2="389.79999999999995" y2="321.30" stroke="#00ffff" stroke-width="2.05"/>
<text x="394.5" y="323.76" font-size="6.83" class="lg">ROC curve of class 0 (area = 0.99)</text>
<line x1="374.59999999999997" y1="331.40" x2="389.79999999999995" y2="331.40" stroke="#ff8c00" stroke-width="2.05"/>
<text x="394.5" y="333.86" font-size="6.83" class="lg">ROC curve of class 1 (area = 0.97)</text>
<line x1="374.59999999999997" y1="341.50" x2="389.79999999999995" y2="341.50" stroke="#6495ed" stroke-width="2.05"/>
<text x="394.5" y="343.96" font-size="6.83" class="lg">ROC curve of class 2 (area = 0.98)</text>
<line x1="374.59999999999997" y1="351.60" x2="389.79999999999995" y2="351.60" stroke="#a52a2a" stroke-width="2.05"/>
<text x="394.5" y="354.06" font-size="6.83" class="lg">ROC curve of class 3 (area = 0.97)</text>
<line x1="374.59999999999997" y1="361.70" x2="389.79999999999995" y2="361.70" stroke="#90ee90" stroke-width="2.05"/>
<text x="394.5" y="364.16" font-size="6.83" class="lg">ROC curve of class 4 (area = 0.95)</text>
<clipPath id="clipe"><rect x="40.45" y="415.82" width="219.8" height="161.18"/></clipPath>
<g clip-path="url(#clipe)" fill="none" stroke-linejoin="miter" stroke-linecap="butt">
<polyline points="41.1,576.9 41.1,575.7 41.1,574.0 41.6,574.0 41.6,572.7 42.1,572.7 42.1,571.0 42.7,571.0 42.7,568.4 43.7,568.4 44.4,568.4 44.4,566.4 45.0,566.4 45.0,565.1 45.0,563.0 45.7,563.0 46.2,563.0 46.2,561.9 47.1,561.9 47.1,559.4 47.1,558.3 47.5,558.3 47.5,557.0 48.0,557.0 48.0,556.1 48.6,556.1 48.6,555.3 49.2,555.3 49.8,555.3 49.8,554.4 50.8,554.4 50.8,553.1 50.8,550.7 52.5,550.7 53.2,550.7 53.2,549.8 53.2,548.6 54.2,548.6 55.0,548.6 55.0,547.6 55.0,546.5 55.8,546.5 57.0,546.5 57.0,545.0 57.0,544.1 57.8,544.1 57.8,543.1 58.7,543.1 58.7,542.2 59.4,542.2 59.4,540.8 60.6,540.8 60.6,540.0 61.3,540.0 63.4,540.0 63.4,537.6 63.4,536.8 64.2,536.8 65.2,536.8 65.2,535.8 65.2,534.9 66.1,534.9 66.1,533.6 67.4,533.6 67.4,531.8 69.2,531.8 70.0,531.8 70.0,531.0 70.0,530.1 70.7,530.1 71.4,530.1 71.4,529.4 71.4,528.5 72.2,528.5 73.2,528.5 73.2,527.3 74.6,527.3 74.6,525.7 74.6,523.5 76.5,523.5 76.5,521.5 77.1,521.5 77.1,519.6 77.8,519.6 78.2,519.6 78.2,518.2 78.6,518.2 78.6,517.0 79.6,517.0 79.6,516.6 82.1,516.6 82.1,515.7 82.1,515.4 83.1,515.4 83.1,514.7 85.0,514.7 85.6,514.7 85.6,513.5 86.4,513.5 86.4,511.8 87.0,511.8 87.0,510.4 87.0,508.9 87.7,508.9 87.7,507.5 88.4,507.5 88.4,505.0 89.5,505.0 89.5,504.5 90.8,504.5 90.8,504.0 92.1,504.0 93.8,504.0 93.8,503.3 96.0,503.3 96.0,502.5 97.0,502.5 97.0,502.1 98.3,502.1 98.3,501.6 99.1,501.6 99.1,500.2 99.1,498.3 100.2,498.3 100.2,496.4 101.2,496.4 101.2,495.3 101.8,495.3 102.6,495.3 102.6,494.0 102.6,493.4 103.4,493.4 105.0,493.4 105.0,492.3 105.0,491.3 106.6,491.3 107.4,491.3 107.4,490.7 107.4,489.6 109.0,489.6 109.0,488.8 110.1,488.8 110.1,488.3 110.9,488.3 110.9,487.4 112.2,487.4 112.2,485.7 114.8,485.7 115.7,485.7 115.7,485.0 116.8,485.0 116.8,484.1 118.7,484.1 118.7,482.6 119.8,482.6 119.8,481.7 119.8,480.8 121.0,480.8 121.0,480.0 122.0,480.0 122.0,478.3 124.6,478.3 124.6,477.7 125.4,477.7 125.4,477.0 126.5,477.0 128.1,477.0 128.1,475.9 128.1,475.1 129.3,475.1 130.2,475.1 130.2,474.5 131.0,474.5 131.0,474.0 131.0,473.4 132.0,473.4 132.8,473.4 132.8,472.9 133.8,472.9 133.8,472.3 133.8,470.8 136.1,470.8 136.1,470.0 137.5,470.0 137.5,469.2 138.5,469.2 138.5,468.4 139.7,468.4 141.7,468.4 141.7,466.9 142.5,466.9 142.5,466.3 142.5,465.4 143.8,465.4 143.8,464.5 145.0,464.5 145.0,463.9 147.0,463.9 148.5,463.9 148.5,463.5 148.5,463.2 149.6,463.2 151.4,463.2 151.4,462.7 153.7,462.7 153.7,462.0 153.7,460.7 154.8,460.7 154.8,459.7 155.6,459.7 156.9,459.7 156.9,458.3 158.0,458.3 158.0,457.0 158.0,456.7 160.2,456.7 160.2,456.4 162.4,456.4 162.4,456.1 164.4,456.1 164.4,455.9 165.9,455.9 167.0,455.9 167.0,455.8 168.7,455.8 168.7,455.2 168.7,454.6 170.2,454.6 170.2,454.2 171.4,454.2 173.0,454.2 173.0,453.6 173.5,453.6 173.5,452.6 173.5,450.8 174.5,450.8 174.5,449.0 175.5,449.0 175.5,448.7 178.2,448.7 178.2,448.4 180.5,448.4 180.5,448.2 182.0,448.2 182.0,448.0 184.0,448.0 184.0,447.5 185.4,447.5 185.4,446.8 187.6,446.8 187.6,445.9 190.3,445.9 191.8,445.9 191.8,445.4 191.8,445.0 193.0,445.0 193.0,444.2 194.4,444.2 196.9,444.2 196.9,442.9 196.9,442.4 198.0,442.4 198.0,441.6 199.5,441.6 200.3,441.6 200.3,440.9 200.3,439.9 201.5,439.9 201.5,438.8 202.8,438.8 204.1,438.8 204.1,437.6 204.1,436.7 205.2,436.7 205.2,436.0 206.0,436.0 206.0,435.4 208.6,435.4 208.6,435.1 210.0,435.1 210.0,434.8 211.3,434.8 211.3,434.6 212.4,434.6 212.4,434.0 215.0,434.0 216.7,434.0 216.7,433.6 216.7,433.2 218.5,433.2 220.5,433.2 220.5,432.7 220.5,432.3 222.2,432.3 222.2,432.0 223.5,432.0 223.5,431.6 224.6,431.6 226.5,431.6 226.5,430.8 226.5,429.9 228.7,429.9 228.7,429.1 230.4,429.1 230.4,428.5 232.0,428.5 232.0,428.1 233.8,428.1 233.8,427.8 235.1,427.8 235.1,427.4 237.0,427.4 237.0,427.1 238.3,427.1 241.7,427.1 241.7,426.3 241.7,426.0 243.0,426.0 245.8,426.0 245.8,425.5 245.8,425.3 247.0,425.3 247.0,425.0 248.6,425.0 248.6,424.6 250.5,424.6 250.5,424.4 251.7,424.4 251.7,424.0 254.0,424.0 254.0,423.8 256.6,423.8 256.6,423.7 258.7,423.7 258.7,423.6 260.5,423.6" stroke="#ff1493" stroke-width="2.05"/>
<polyline points="41.1,576.9 41.1,576.0 42.1,576.0 42.1,574.2 42.1,573.3 42.6,573.3 43.7,573.3 43.7,571.4 43.7,570.3 44.3,570.3 44.3,569.2 45.0,569.2 46.6,569.2 46.6,566.5 46.6,564.9 47.5,564.9 48.0,564.9 48.0,564.0 48.0,563.0 49.0,563.0 49.0,561.6 50.4,561.6 50.4,560.8 51.2,560.8 51.2,559.5 52.5,559.5 52.5,558.6 52.9,558.6 52.9,556.4 54.0,556.4 54.0,555.2 54.6,555.2 55.1,555.2 55.1,554.2 56.0,554.2 56.0,552.2 56.0,550.9 56.6,550.9 56.6,548.4 57.9,548.4 58.5,548.4 58.5,546.9 59.0,546.9 59.0,546.0 59.0,544.5 60.7,544.5 61.7,544.5 61.7,543.7 63.5,543.7 63.5,542.2 64.7,542.2 64.7,541.2 64.7,540.4 65.6,540.4 65.6,539.5 66.7,539.5 66.7,538.7 67.7,538.7 67.7,538.1 68.4,538.1 68.4,536.1 70.7,536.1 71.7,536.1 71.7,535.2 72.8,535.2 72.8,534.2 72.8,533.1 74.1,533.1 74.1,532.4 74.9,532.4 74.9,531.8 75.6,531.8 75.6,531.0 76.5,531.0 77.5,531.0 77.5,530.3 77.5,529.5 78.4,529.5 81.0,529.5 81.0,527.6 81.8,527.6 81.8,526.9 81.8,526.3 82.7,526.3 82.7,525.3 83.9,525.3 83.9,524.5 85.0,524.5 85.9,524.5 85.9,523.6 85.9,522.6 86.8,522.6 86.8,521.7 87.6,521.7 87.6,520.7 88.5,520.7 89.9,520.7 89.9,519.3 90.6,519.3 90.6,518.5 92.0,518.5 92.0,517.0 92.0,515.3 93.8,515.3 93.8,514.2 94.9,514.2 94.9,512.7 96.6,512.7 96.6,511.9 97.4,511.9 97.4,510.9 98.5,510.9 98.5,509.9 99.5,509.9 99.5,509.0 100.5,509.0 100.5,508.5 101.3,508.5 102.3,508.5 102.3,507.7 102.3,507.0 103.3,507.0 105.3,507.0 105.3,505.6 107.3,505.6 107.3,504.2 107.3,503.7 108.0,503.7 108.0,503.0 109.0,503.0 109.0,502.0 109.4,502.0 109.8,502.0 109.8,501.0 109.8,499.7 110.4,499.7 110.4,498.5 110.9,498.5 111.7,498.5 111.7,496.3 111.7,493.0 113.1,493.0 113.1,492.0 113.5,492.0 113.5,490.9 114.6,490.9 114.6,489.7 115.8,489.7 117.0,489.7 117.0,488.5 117.0,487.5 118.0,487.5 118.0,486.6 118.7,486.6 120.0,486.6 120.0,485.0 120.0,483.9 120.9,483.9 120.9,482.5 122.0,482.5 123.9,482.5 123.9,481.7 123.9,481.2 125.2,481.2 125.2,480.8 126.2,480.8 127.9,480.8 127.9,480.1 127.9,479.7 128.8,479.7 130.8,479.7 130.8,478.9 130.8,478.0 133.0,478.0 136.3,478.0 136.3,476.6 136.3,475.8 138.2,475.8 138.2,475.5 139.1,475.5 139.1,475.0 140.3,475.0 141.4,475.0 141.4,474.5 141.4,474.1 142.3,474.1 142.3,473.4 144.1,473.4 144.1,473.0 145.0,473.0 146.5,473.0 146.5,472.6 146.5,471.5 150.1,471.5 150.1,471.1 151.3,471.1 151.3,470.7 152.5,470.7 152.5,470.3 153.9,470.3 153.9,470.0 155.0,470.0 155.0,468.7 156.9,468.7 156.9,468.0 158.0,468.0 158.0,467.0 159.2,467.0 161.4,467.0 161.4,465.2 162.4,465.2 162.4,464.4 162.4,463.5 163.4,463.5 163.4,462.5 164.5,462.5 165.7,462.5 165.7,461.6 165.7,460.5 167.0,460.5 168.6,460.5 168.6,459.8 168.6,458.9 170.8,458.9 170.8,458.5 171.7,458.5 173.0,458.5 173.0,458.0 173.0,457.0 175.2,457.0 176.8,457.0 176.8,456.2 176.8,455.8 177.7,455.8 177.7,455.4 178.8,455.4 178.8,455.0 179.8,455.0 179.8,454.5 181.0,454.5 182.2,454.5 182.2,454.0 185.4,454.0 185.4,452.8 187.1,452.8 187.1,452.1 187.1,451.5 188.6,451.5 190.2,451.5 190.2,451.0 191.6,451.0 191.6,450.6 191.6,450.0 193.6,450.0 193.6,449.6 195.0,449.6 195.0,449.0 197.0,449.0 197.0,447.6 198.5,447.6 199.4,447.6 199.4,446.9 200.6,446.9 200.6,445.7 200.6,444.5 202.0,444.5 203.2,444.5 203.2,443.4 203.2,442.7 204.0,442.7 204.9,442.7 204.9,441.9 205.6,441.9 205.6,441.3 206.3,441.3 206.3,440.7 206.3,438.7 208.5,438.7 209.8,438.7 209.8,437.6 209.8,437.0 210.5,437.0 210.5,436.7 211.9,436.7 213.3,436.7 213.3,436.5 213.3,436.2 214.8,436.2 216.5,436.2 216.5,435.8 218.0,435.8 218.0,435.6 218.0,435.0 221.0,435.0 222.7,435.0 222.7,434.5 222.7,434.1 224.2,434.1 224.2,433.7 225.9,433.7 225.9,433.1 227.9,433.1 227.9,432.5 230.2,432.5 230.2,432.0 232.0,432.0 232.0,431.3 235.7,431.3 235.7,431.0 237.6,431.0 237.6,430.7 239.2,430.7 239.2,430.4 240.6,430.4 241.7,430.4 241.7,430.2 241.7,430.0 243.1,430.0 243.1,429.6 245.0,429.6 245.0,428.9 246.7,428.9 246.7,428.5 248.0,428.5 248.0,427.9 249.3,427.9 251.2,427.9 251.2,427.2 251.2,426.4 253.2,426.4 254.4,426.4 254.4,425.9 255.4,425.9 255.4,425.6 255.4,425.1 256.7,425.1 256.7,424.5 258.1,424.5 258.1,423.6 260.5,423.6" stroke="#000080" stroke-width="2.05"/>
<polyline points="41.1,576.9 41.5,576.9 41.5,575.9 43.3,575.9 43.3,573.9 43.3,572.7 44.5,572.7 46.1,572.7 46.1,571.0 46.1,569.0 48.0,569.0 48.0,568.2 49.9,568.2 51.4,568.2 51.4,567.5 51.4,566.0 54.6,566.0 54.6,561.5 55.9,561.5 55.9,559.8 56.4,559.8 56.4,558.1 56.9,558.1 57.3,558.1 57.3,556.5 57.3,554.0 58.0,554.0 58.0,550.7 59.0,550.7 60.4,550.7 60.4,549.7 63.4,549.7 63.4,547.5 64.3,547.5 64.3,544.9 64.8,544.9 64.8,543.2 65.5,543.2 65.5,541.0 65.5,540.5 68.9,540.5 72.0,540.5 72.0,540.0 73.7,540.0 73.7,538.8 76.1,538.8 76.1,537.2 76.1,535.5 78.6,535.5 78.6,534.6 81.3,534.6 83.5,534.6 83.5,533.9 83.5,533.0 86.0,533.0 86.6,533.0 86.6,531.1 87.3,531.1 87.3,528.8 87.9,528.8 87.9,527.2 87.9,524.3 88.8,524.3 88.8,522.0 89.5,522.0 89.5,519.9 91.4,519.9 91.4,518.1 93.0,518.1 93.0,517.0 94.0,517.0 94.0,515.6 95.3,515.6 96.3,515.6 96.3,514.5 96.3,511.3 99.3,511.3 99.3,510.0 100.5,510.0 100.5,507.9 104.1,507.9 105.5,507.9 105.5,507.0 105.5,506.2 107.0,506.2 107.0,505.0 109.0,505.0 109.0,502.2 109.7,502.2 109.7,500.0 110.3,500.0 110.3,497.0 111.0,497.0 111.0,495.4 112.3,495.4 112.3,494.2 113.3,494.2 113.3,491.6 115.5,491.6 115.5,490.2 116.6,490.2 116.6,488.5 118.0,488.5 118.0,486.4 119.5,486.4 119.5,484.5 120.9,484.5 120.9,483.0 122.0,483.0 123.9,483.0 123.9,482.3 123.9,481.1 126.9,481.1 126.9,480.1 129.5,480.1 131.4,480.1 131.4,479.3 133.0,479.3 133.0,478.7 134.8,478.7 134.8,477.8 134.8,477.0 136.3,477.0 136.3,475.1 140.0,475.1 140.0,474.3 141.6,474.3 141.6,473.0 144.0,473.0 145.0,472.0 145.0,471.5 146.8,471.5 146.8,470.9 148.6,470.9 148.6,470.4 150.2,470.4 155.0,470.4 155.0,469.0 155.0,466.8 156.0,466.8 156.0,464.5 157.0,464.5 157.0,463.9 158.4,463.9 161.5,463.9 161.5,462.5 162.8,462.5 162.8,461.9 162.8,460.9 165.0,460.9 167.0,460.9 167.0,460.0 167.0,459.3 168.3,459.3 168.3,458.2 170.6,458.2 170.6,457.0 173.0,457.0 174.4,457.0 174.4,455.7 176.6,455.7 176.6,453.5 177.7,453.5 177.7,452.5 181.8,452.5 181.8,451.2 181.8,450.6 183.5,450.6 183.5,450.0 185.4,450.0 185.4,449.5 187.2,449.5 188.6,449.5 188.6,449.0 189.9,449.0 189.9,448.4 189.9,446.7 193.4,446.7 193.4,445.9 195.1,445.9 195.1,445.0 197.0,445.0 197.0,444.0 198.3,444.0 199.6,444.0 199.6,443.0 199.6,440.5 202.8,440.5 202.8,439.5 204.0,439.5 204.0,438.4 205.2,438.4 205.2,436.0 208.0,436.0 210.8,436.0 210.8,434.2 212.6,434.2 212.6,433.0 215.0,433.0 215.0,432.8 215.0,432.5 217.9,432.5 217.9,432.2 221.1,432.2 221.1,432.0 223.5,432.0 223.5,431.5 225.3,431.5 225.3,430.4 229.2,430.4 229.2,429.6 232.0,429.6 232.0,429.2 234.0,429.2 234.0,428.3 238.6,428.3 238.6,427.9 240.9,427.9 240.9,427.5 243.0,427.5 243.0,427.2 244.5,427.2 244.5,426.3 248.3,426.3 248.3,425.9 250.0,425.9 250.0,425.4 252.4,425.4 252.4,424.9 254.7,424.9 254.7,424.1 258.1,424.1 258.1,423.6 260.5,423.6" stroke="#00ffff" stroke-width="2.05"/>
<polyline points="41.1,576.9 41.1,575.6 41.2,575.6 41.2,572.0 43.1,572.0 43.1,570.8 43.8,570.8 44.8,570.8 44.8,569.0 44.8,567.4 45.6,567.4 45.6,565.0 46.9,565.0 46.9,563.0 48.0,563.0 48.0,560.0 49.0,560.0 50.0,560.0 50.0,557.0 50.0,555.6 51.7,555.6 53.5,555.6 53.5,554.0 53.8,554.0 53.8,550.8 53.8,548.3 54.1,548.3 54.1,545.4 54.4,545.4 54.4,543.0 54.6,543.0 57.0,543.0 57.0,541.9 59.0,541.9 59.0,541.0 60.1,541.0 60.1,540.0 60.1,538.4 61.8,538.4 61.8,537.4 62.9,537.4 64.5,537.4 64.5,536.0 64.5,533.0 67.7,533.0 67.7,531.6 69.4,531.6 69.4,530.2 71.1,530.2 72.3,530.2 72.3,529.2 72.3,527.6 74.1,527.6 74.1,525.6 76.5,525.6 79.3,525.6 79.3,523.7 80.8,523.7 80.8,522.6 80.8,521.0 83.0,521.0 84.8,521.0 84.8,519.6 84.8,518.8 85.9,518.8 85.9,518.0 87.0,518.0 89.5,518.0 89.5,516.0 89.5,514.2 91.3,514.2 91.3,513.2 92.3,513.2 94.0,513.2 94.0,511.5 94.0,510.2 95.5,510.2 95.5,508.0 98.2,508.0 99.2,508.0 99.2,507.1 100.5,507.1 100.5,506.0 102.5,506.0 102.5,505.1 102.5,503.9 105.0,503.9 105.0,503.0 107.0,503.0 108.3,503.0 108.3,500.1 108.3,497.7 109.3,497.7 109.3,496.0 110.0,496.0 110.0,493.9 110.8,493.9 111.6,493.9 111.6,492.0 112.7,492.0 112.7,489.5 112.7,487.5 113.5,487.5 115.0,487.5 115.0,486.5 115.0,485.3 116.9,485.3 116.9,483.3 119.9,483.3 122.0,483.3 122.0,482.0 124.7,482.0 124.7,480.7 124.7,479.5 127.2,479.5 127.2,478.7 129.0,478.7 129.0,478.1 131.1,478.1 134.6,478.1 134.6,477.0 134.6,476.2 137.4,476.2 137.4,475.5 139.7,475.5 139.7,475.0 142.2,475.0 142.2,474.4 145.0,474.4 145.0,473.8 146.5,473.8 146.5,472.9 148.9,472.9 151.8,472.9 151.8,471.7 151.8,471.0 153.7,471.0 159.0,471.0 159.0,468.6 159.4,468.6 160.0,468.6 160.0,464.5 161.7,464.5 161.7,463.7 165.3,463.7 165.3,461.9 165.3,461.0 167.0,461.0 167.0,460.1 169.7,460.1 173.0,460.1 173.0,459.0 174.8,459.0 174.8,458.7 174.8,457.8 179.6,457.8 181.9,457.8 181.9,457.4 181.9,457.0 184.0,457.0 184.0,456.5 185.5,456.5 185.5,455.3 189.3,455.3 189.3,454.7 191.0,454.7 197.0,455.8 197.0,452.6 199.2,452.6 199.2,451.4 200.0,451.4 200.0,450.1 201.0,450.1 201.7,450.1 201.7,449.0 201.7,448.3 203.1,448.3 203.1,447.5 204.9,447.5 204.9,446.0 208.0,446.0 208.0,443.7 208.9,443.7 208.9,441.3 209.8,441.3 209.8,439.5 210.5,439.5 221.0,440.5 221.7,440.5 221.7,438.5 222.5,438.5 222.5,436.0 226.3,436.0 226.3,435.6 226.3,435.2 230.1,435.2 230.1,435.0 232.0,435.0 232.0,433.9 235.9,433.9 235.9,433.3 238.1,433.3 238.1,432.6 240.9,432.6 243.0,432.6 243.0,432.0 245.7,432.0 245.7,430.6 245.7,429.8 247.2,429.8 247.2,428.5 249.7,428.5 249.7,427.9 251.0,427.9 251.0,425.7 255.8,425.7 255.8,425.1 257.2,425.1 257.2,424.2 259.1,424.2 259.1,423.6 260.5,423.6" stroke="#ff8c00" stroke-width="2.05"/>
<line x1="40.45" y1="577.0" x2="260.25" y2="423.50" stroke="#000" stroke-width="2.05" stroke-dasharray="6.94 3.01" stroke-dashoffset="-1.5"/>
</g>
<rect x="40.45" y="415.82" width="219.8" height="161.18" fill="none" stroke="#000" stroke-width="0.9"/>
<line x1="40.45" y1="577.0" x2="40.45" y2="580.8" stroke="#000" stroke-width="0.9"/>
<line x1="40.45" y1="577.00" x2="36.650000000000006" y2="577.00" stroke="#000" stroke-width="0.9"/>
<text x="40.45" y="592.4" font-size="9.1" text-anchor="middle">0.0</text>
<text x="32.25" y="580.60" font-size="9.1" text-anchor="end">0.0</text>
<line x1="84.41" y1="577.0" x2="84.41" y2="580.8" stroke="#000" stroke-width="0.9"/>
<line x1="40.45" y1="546.30" x2="36.650000000000006" y2="546.30" stroke="#000" stroke-width="0.9"/>
<text x="84.41" y="592.4" font-size="9.1" text-anchor="middle">0.2</text>
<text x="32.25" y="549.90" font-size="9.1" text-anchor="end">0.2</text>
<line x1="128.37" y1="577.0" x2="128.37" y2="580.8" stroke="#000" stroke-width="0.9"/>
<line x1="40.45" y1="515.60" x2="36.650000000000006" y2="515.60" stroke="#000" stroke-width="0.9"/>
<text x="128.37" y="592.4" font-size="9.1" text-anchor="middle">0.4</text>
<text x="32.25" y="519.20" font-size="9.1" text-anchor="end">0.4</text>
<line x1="172.33" y1="577.0" x2="172.33" y2="580.8" stroke="#000" stroke-width="0.9"/>
<line x1="40.45" y1="484.90" x2="36.650000000000006" y2="484.90" stroke="#000" stroke-width="0.9"/>
<text x="172.33" y="592.4" font-size="9.1" text-anchor="middle">0.6</text>
<text x="32.25" y="488.50" font-size="9.1" text-anchor="end">0.6</text>
<line x1="216.29" y1="577.0" x2="216.29" y2="580.8" stroke="#000" stroke-width="0.9"/>
<line x1="40.45" y1="454.20" x2="36.650000000000006" y2="454.20" stroke="#000" stroke-width="0.9"/>
<text x="216.29" y="592.4" font-size="9.1" text-anchor="middle">0.8</text>
<text x="32.25" y="457.80" font-size="9.1" text-anchor="end">0.8</text>
<line x1="260.25" y1="577.0" x2="260.25" y2="580.8" stroke="#000" stroke-width="0.9"/>
<line x1="40.45" y1="423.50" x2="36.650000000000006" y2="423.50" stroke="#000" stroke-width="0.9"/>
<text x="260.25" y="592.4" font-size="9.1" text-anchor="middle">1.0</text>
<text x="32.25" y="427.10" font-size="9.1" text-anchor="end">1.0</text>
<text x="149.75" y="606.1" font-size="9.1" text-anchor="middle">False Positive Rate</text>
<text transform="translate(11.45,496.41) rotate(-90)" font-size="9.1" text-anchor="middle">True Positive Rate</text>
<text x="156.05" y="616.20" font-size="8.7" text-anchor="middle">(e)</text>
<line x1="95.65" y1="537.20" x2="110.85000000000001" y2="537.20" stroke="#ff1493" stroke-width="2.05"/>
<text x="115.55" y="539.66" font-size="6.83" class="lg">micro-average ROC curve (area = 0.66)</text>
<line x1="95.65" y1="547.30" x2="110.85000000000001" y2="547.30" stroke="#000080" stroke-width="2.05"/>
<text x="115.55" y="549.76" font-size="6.83" class="lg">macro-average ROC curve (area = 0.63)</text>
<line x1="95.65" y1="557.40" x2="110.85000000000001" y2="557.40" stroke="#00ffff" stroke-width="2.05"/>
<text x="115.55" y="559.86" font-size="6.83" class="lg">ROC curve of class 0 (area = 0.63)</text>
<line x1="95.65" y1="567.50" x2="110.85000000000001" y2="567.50" stroke="#ff8c00" stroke-width="2.05"/>
<text x="115.55" y="569.96" font-size="6.83" class="lg">ROC curve of class 1 (area = 0.63)</text>
<clipPath id="clipf"><rect x="319.4" y="415.82" width="219.8" height="161.18"/></clipPath>
<g clip-path="url(#clipf)" fill="none" stroke-linejoin="miter" stroke-linecap="butt">
<polyline points="320.0,576.9 320.0,557.0 320.0,555.7 320.1,555.7 320.1,554.3 320.1,552.4 320.5,552.4 320.5,551.1 320.7,551.1 321.0,551.1 321.0,549.5 321.0,546.8 321.6,546.8 321.6,544.4 322.1,544.4 322.6,544.4 322.6,542.0 323.8,542.0 323.8,539.8 323.8,538.7 324.3,538.7 325.5,538.7 325.5,536.5 325.5,535.5 326.0,535.5 326.0,534.6 326.5,534.6 327.6,534.6 327.6,532.7 328.6,532.7 328.6,530.9 328.6,529.7 329.2,529.7 330.3,529.7 330.3,527.8 330.3,526.5 331.1,526.5 332.3,526.5 332.3,524.6 333.4,524.6 333.4,522.9 333.4,522.0 334.0,522.0 334.6,522.0 334.6,521.0 334.6,519.2 335.7,519.2 335.7,517.7 336.6,517.7 336.6,515.8 337.7,515.8 337.7,514.6 338.4,514.6 338.4,513.6 339.0,513.6 339.0,513.1 339.7,513.1 339.7,511.8 341.2,511.8 341.2,511.1 342.1,511.1 343.4,511.1 343.4,510.0 344.1,510.0 344.1,509.2 344.1,508.2 345.0,508.2 345.0,506.7 346.4,506.7 346.4,505.7 347.3,505.7 348.4,505.7 348.4,504.5 350.0,504.5 350.0,502.7 350.0,501.6 350.9,501.6 350.9,500.6 351.7,500.6 353.8,500.6 353.8,498.0 353.8,497.0 354.6,497.0 355.4,497.0 355.4,496.0 355.4,494.9 356.9,494.9 358.2,494.9 358.2,494.0 359.8,494.0 359.8,492.9 361.0,492.9 361.0,492.0 361.0,490.7 361.5,490.7 361.5,489.7 362.0,489.7 362.0,488.4 362.6,488.4 362.6,486.9 363.2,486.9 363.2,485.0 364.0,485.0 364.0,484.5 365.5,484.5 367.8,484.5 367.8,483.6 369.5,483.6 369.5,483.0 370.7,483.0 370.7,481.0 370.7,480.0 371.3,480.0 371.3,479.1 371.9,479.1 373.0,479.1 373.0,477.2 373.0,475.5 374.0,475.5 374.0,472.8 375.6,472.8 376.2,472.8 376.2,472.0 376.7,472.0 376.7,471.1 376.7,470.1 377.3,470.1 377.3,469.0 378.0,469.0 378.0,468.3 379.1,468.3 379.1,467.5 380.4,467.5 380.4,467.0 381.3,467.0 383.3,467.0 383.3,465.8 384.3,465.8 384.3,465.2 384.3,464.6 385.1,464.6 385.1,463.5 387.0,463.5 387.0,462.8 388.1,462.8 389.4,462.8 389.4,462.0 389.4,461.0 391.0,461.0 391.0,460.4 392.6,460.4 392.6,460.0 393.8,460.0 395.2,460.0 395.2,459.5 395.2,458.7 397.3,458.7 397.3,458.2 398.8,458.2 398.8,457.6 400.2,457.6 400.2,457.0 402.0,457.0 402.0,456.4 403.2,456.4 403.2,455.6 404.7,455.6 404.7,454.7 406.6,454.7 406.6,454.2 408.0,454.2 410.6,454.2 410.6,453.3 410.6,452.9 411.9,452.9 411.9,452.5 413.0,452.5 415.4,452.5 415.4,451.6 415.4,451.2 416.7,451.2 416.7,450.7 418.1,450.7 420.0,450.7 420.0,450.0 420.0,449.4 421.1,449.4 422.6,449.4 422.6,448.5 423.5,448.5 423.5,448.0 423.5,446.7 425.6,446.7 426.7,446.7 426.7,446.1 426.7,445.0 428.5,445.0 428.5,444.7 430.4,444.7 430.4,444.5 432.0,444.5 435.0,444.5 435.0,444.0 436.4,444.0 436.4,443.6 438.4,443.6 438.4,443.1 440.0,443.1 440.0,442.7 440.0,441.6 440.7,441.6 440.7,440.6 441.2,440.6 441.2,438.4 442.5,438.4 442.5,438.1 443.5,438.1 445.2,438.1 445.2,437.6 445.2,437.1 447.0,437.1 447.0,436.5 449.2,436.5 449.2,436.0 451.0,436.0 452.2,436.0 452.2,435.6 452.2,435.1 453.6,435.1 455.3,435.1 455.3,434.6 458.2,434.6 458.2,433.6 458.2,433.0 460.0,433.0 460.0,432.3 461.8,432.3 461.8,431.8 463.0,431.8 465.6,431.8 465.6,430.8 466.9,430.8 466.9,430.3 468.6,430.3 468.6,429.6 468.6,428.9 471.4,428.9 471.4,428.6 473.0,428.6 473.0,428.3 474.1,428.3 474.1,427.8 476.2,427.8 476.2,427.3 478.1,427.3 479.5,427.3 479.5,427.0 479.5,426.7 481.6,426.7 482.8,426.7 482.8,426.5 483.9,426.5 483.9,426.3 483.9,426.0 485.8,426.0 485.8,425.5 489.0,425.5 490.5,425.5 490.5,425.3 492.7,425.3 492.7,425.2 494.8,425.2 494.8,425.1 494.8,425.0 497.0,425.0 497.0,424.9 500.4,424.9 501.9,424.9 501.9,424.8 503.5,424.8 503.5,424.6 504.8,424.6 504.8,424.1 508.6,424.1 510.5,424.1 510.5,423.9 510.5,423.7 512.0,423.7 514.0,423.7 516.0,423.7 517.4,423.7 519.4,423.7 521.0,423.7 523.8,423.7 525.2,423.7 528.3,423.7 528.3,423.6 531.4,423.6 533.0,423.6 534.8,423.6 537.3,423.6 539.5,423.6" stroke="#ff1493" stroke-width="2.05"/>
<polyline points="320.0,576.9 320.0,559.5 320.0,556.9 320.3,556.9 320.7,556.9 320.7,555.9 320.7,554.3 321.2,554.3 321.2,552.9 321.6,552.9 321.6,551.7 322.0,551.7 322.0,550.4 322.4,550.4 322.4,548.4 323.0,548.4 323.7,548.4 323.7,546.4 323.7,544.0 324.9,544.0 325.4,544.0 325.4,542.9 325.4,541.6 326.0,541.6 326.8,541.6 326.8,540.0 326.8,539.0 327.3,539.0 327.3,537.6 328.0,537.6 328.0,536.7 328.5,536.7 328.5,534.6 329.6,534.6 330.4,534.6 330.4,533.0 330.4,532.0 330.9,532.0 330.9,531.0 331.4,531.0 331.4,529.0 332.5,529.0 332.5,527.9 333.1,527.9 333.1,526.5 333.9,526.5 334.8,526.5 334.8,524.8 335.9,524.8 335.9,522.7 335.9,521.7 336.5,521.7 337.0,521.7 337.0,520.7 337.7,520.7 337.7,519.4 339.0,519.4 339.0,517.0 339.0,515.7 340.1,515.7 340.1,514.1 341.3,514.1 341.3,513.0 342.2,513.0 342.2,511.5 343.4,511.5 344.4,511.5 344.4,510.8 344.4,509.8 345.6,509.8 345.6,509.2 346.4,509.2 347.2,509.2 347.2,508.7 347.2,507.8 348.3,507.8 348.3,507.0 349.4,507.0 349.4,505.0 352.0,505.0 352.0,504.0 352.6,504.0 352.6,502.9 353.2,502.9 353.2,501.3 354.2,501.3 354.2,500.1 354.9,500.1 355.8,500.1 355.8,498.4 355.8,497.3 356.5,497.3 356.5,495.7 358.5,495.7 360.0,495.7 360.0,494.6 360.0,493.8 361.0,493.8 361.0,493.0 362.0,493.0 362.0,492.0 363.0,492.0 363.0,490.9 364.1,490.9 364.1,490.1 364.9,490.1 364.9,488.8 366.2,488.8 367.0,488.8 367.0,488.0 367.0,487.0 367.5,487.0 368.1,487.0 368.1,486.1 368.1,484.7 368.9,484.7 369.6,484.7 369.6,483.5 371.0,483.5 371.0,481.0 371.0,480.0 372.2,480.0 372.2,478.5 373.8,478.5 375.1,478.5 375.1,477.3 376.0,477.3 376.0,476.5 376.9,476.5 376.9,476.0 376.9,475.2 378.5,475.2 380.4,475.2 380.4,474.3 380.4,473.5 381.9,473.5 382.9,473.5 382.9,473.1 385.0,473.1 385.0,472.0 385.5,472.0 385.5,471.0 385.5,469.8 386.2,469.8 386.2,468.4 386.9,468.4 386.9,467.2 387.6,467.2 389.0,467.2 389.0,464.5 390.0,464.5 390.0,464.0 390.0,463.4 391.1,463.4 391.1,462.9 392.3,462.9 394.8,462.9 394.8,461.6 396.4,461.6 396.4,460.8 396.4,460.0 398.0,460.0 398.0,459.6 399.3,459.6 400.7,459.6 400.7,459.2 400.7,458.4 403.7,458.4 404.9,458.4 404.9,458.0 406.6,458.0 406.6,457.5 407.9,457.5 407.9,456.9 407.9,456.3 409.5,456.3 409.5,455.6 411.1,455.6 411.1,454.8 413.1,454.8 413.1,454.0 415.0,454.0 415.0,453.4 417.0,453.4 417.0,453.0 418.5,453.0 419.7,453.0 419.7,452.7 419.7,452.0 422.0,452.0 422.0,451.0 423.0,451.0 423.0,450.3 423.7,450.3 423.7,449.3 424.7,449.3 426.2,449.3 426.2,447.8 426.2,447.0 427.0,447.0 429.5,447.0 429.5,446.7 429.5,446.5 431.1,446.5 431.1,446.3 432.8,446.3 432.8,446.0 435.0,446.0 435.0,445.3 436.0,445.3 436.0,444.7 437.0,444.7 437.0,443.4 439.0,443.4 439.0,442.7 440.0,442.7 440.0,441.8 440.7,441.8 440.7,440.1 442.0,440.1 442.5,440.1 442.5,439.5 442.5,439.2 444.6,439.2 444.6,438.9 446.8,438.9 449.3,438.9 449.3,438.6 451.0,438.6 451.0,438.4 451.0,438.1 451.9,438.1 453.1,438.1 453.1,437.6 453.1,437.0 454.8,437.0 456.2,437.0 456.2,436.4 459.0,436.4 459.0,435.4 460.0,435.4 460.0,435.0 460.0,434.4 461.7,434.4 461.7,433.7 463.4,433.7 463.4,433.2 464.7,433.2 467.4,433.2 467.4,432.2 468.6,432.2 468.6,431.8 468.6,431.5 469.9,431.5 472.5,431.5 472.5,431.0 474.4,431.0 474.4,430.6 474.4,430.4 475.8,430.4 475.8,429.9 477.8,429.9 477.8,429.6 479.5,429.6 479.5,429.5 481.0,429.5 481.0,429.2 483.8,429.2 483.8,429.0 485.6,429.0 485.6,428.8 487.3,428.8 488.4,428.8 488.4,428.7 488.4,428.5 490.5,428.5 490.5,428.0 492.9,428.0 495.3,428.0 495.3,427.6 496.4,427.6 496.4,427.4 496.4,427.0 498.3,427.0 500.2,427.0 500.2,426.6 500.2,426.4 501.4,426.4 501.4,426.0 503.9,426.0 503.9,425.8 505.1,425.8 505.1,425.4 507.4,425.4 508.7,425.4 508.7,425.2 511.1,425.2 511.1,424.8 511.1,424.6 512.3,424.6 512.3,424.5 513.8,424.5 516.5,424.5 516.5,424.4 518.9,424.4 518.9,424.2 521.9,424.2 523.3,424.2 523.3,424.1 524.8,424.1 526.3,424.1 526.3,424.0 528.7,424.0 528.7,423.9 531.4,423.9 531.4,423.8 533.3,423.8 533.3,423.7 535.6,423.7 537.9,423.7 539.5,423.7 539.5,423.6" stroke="#000080" stroke-width="2.05"/>
<polyline points="320.0,576.9 320.0,574.8 320.0,571.1 320.0,568.4 320.3,568.4 320.3,566.0 320.5,566.0 320.5,562.5 321.9,562.5 321.9,560.9 322.5,560.9 322.5,559.2 323.2,559.2 323.8,559.2 323.8,557.6 324.8,557.6 324.8,555.0 324.8,550.8 326.4,550.8 326.8,550.8 326.8,549.5 326.8,547.8 327.5,547.8 327.5,546.4 328.0,546.4 328.0,544.7 328.9,544.7 328.9,541.3 330.6,541.3 331.4,541.3 331.4,539.7 332.5,539.7 332.5,537.6 334.0,537.6 334.0,534.8 334.0,533.3 334.7,533.3 334.7,531.2 335.8,531.2 335.8,529.0 337.0,529.0 337.0,526.9 337.6,526.9 337.6,524.9 338.2,524.9 339.0,524.9 339.0,522.4 339.0,521.4 340.9,521.4 340.9,520.0 343.4,520.0 343.9,520.0 343.9,517.8 343.9,515.2 344.6,515.2 345.5,515.2 345.5,511.5 345.5,510.4 350.0,510.4 350.0,509.8 352.3,509.8 354.3,509.8 354.3,509.3 355.4,509.3 355.4,505.5 355.4,503.2 356.1,503.2 356.1,501.6 356.6,501.6 357.5,501.6 357.5,498.4 359.9,498.4 359.9,497.5 359.9,496.9 361.5,496.9 361.5,496.3 362.9,496.3 366.3,496.3 366.3,495.0 366.3,492.5 367.2,492.5 367.2,490.9 367.8,490.9 367.8,488.4 368.8,488.4 368.8,486.4 369.5,486.4 372.2,486.4 372.2,483.2 372.2,481.8 373.4,481.8 373.4,479.9 375.0,479.9 375.0,478.7 376.0,478.7 376.0,475.1 378.0,475.1 378.0,473.6 378.8,473.6 378.8,471.5 380.0,471.5 380.0,469.8 383.1,469.8 383.1,468.9 384.8,468.9 384.8,467.9 386.7,467.9 386.7,466.7 389.0,466.7 389.0,465.6 390.8,465.6 392.9,465.6 392.9,464.3 392.9,463.5 394.2,463.5 396.0,463.5 396.0,462.4 398.8,462.4 398.8,461.7 398.8,461.2 400.5,461.2 403.2,461.2 403.2,460.5 403.2,459.5 406.9,459.5 406.9,459.0 409.0,459.0 409.0,457.6 410.8,457.6 410.8,456.3 412.5,456.3 413.6,456.3 413.6,455.4 413.6,454.5 414.8,454.5 414.8,452.1 417.8,452.1 420.0,452.1 420.0,450.4 420.0,448.9 422.5,448.9 422.5,448.0 424.0,448.0 425.0,448.0 425.0,447.0 426.6,447.0 428.8,447.0 428.8,445.5 428.8,443.8 431.5,443.8 431.5,443.3 435.2,443.3 437.6,443.3 437.6,443.0 437.6,442.7 440.0,442.7 440.0,440.6 440.5,440.6 440.5,437.3 441.4,437.3 441.4,436.9 443.0,436.9 444.8,436.9 444.8,436.5 447.6,436.5 447.6,435.8 451.0,435.8 451.0,435.0 451.0,434.0 453.1,434.0 455.5,434.0 455.5,432.8 455.5,431.7 458.0,431.7 458.0,430.7 460.0,430.7 460.0,430.0 462.6,430.0 462.6,429.0 466.7,429.0 468.6,429.0 468.6,428.5 471.0,428.5 471.0,426.4 471.0,426.2 474.7,426.2 474.7,426.1 477.2,426.1 477.2,426.0 480.0,426.0 483.2,426.0 483.2,425.8 483.2,425.7 486.0,425.7 486.0,425.6 489.3,425.6 491.2,425.6 493.9,425.6 493.9,425.5 496.6,425.5 501.5,425.5 501.5,425.3 503.5,425.3 505.8,425.3 505.8,423.8 505.8,423.0 507.0,423.0 523.0,423.1 539.5,423.6" stroke="#00ffff" stroke-width="2.05"/>
<polyline points="320.0,576.9 320.0,554.0 320.0,553.0 322.6,553.0 322.8,553.0 322.8,550.8 322.8,547.8 323.1,547.8 323.1,544.5 323.3,544.5 323.3,541.8 323.6,541.8 323.6,539.4 323.8,539.4 323.8,537.5 324.0,537.5 324.1,537.5 324.1,535.7 324.1,530.7 324.5,530.7 324.5,527.8 324.8,527.8 328.0,527.8 328.6,527.8 328.6,524.3 328.6,522.4 329.0,522.4 329.0,520.9 330.5,520.9 330.5,518.7 332.9,518.7 334.6,518.7 334.6,517.0 336.0,517.0 336.0,514.5 336.0,513.1 336.8,513.1 338.3,513.1 338.3,510.2 338.3,509.0 339.0,509.0 342.4,509.0 342.4,508.6 342.4,508.2 345.9,508.2 347.7,508.2 347.7,508.0 347.7,506.4 348.3,506.4 349.1,506.4 349.1,504.1 349.1,501.6 350.0,501.6 351.6,501.6 351.6,500.8 351.6,499.5 354.3,499.5 354.3,496.9 354.9,496.9 355.4,496.9 355.4,495.0 355.4,494.3 356.9,494.3 356.9,493.7 358.3,493.7 358.3,492.0 362.0,492.0 362.0,490.9 363.7,490.9 363.7,489.8 365.3,489.8 365.3,488.5 367.4,488.5 368.1,488.5 368.1,487.1 369.1,487.1 369.1,485.1 369.1,482.3 370.4,482.3 370.4,479.8 371.7,479.8 371.7,478.8 373.6,478.8 376.0,478.8 376.0,477.6 376.0,476.7 377.8,476.7 377.8,475.6 379.9,475.6 379.9,474.4 382.3,474.4 382.3,473.0 385.0,473.0 385.0,470.9 386.1,470.9 386.1,469.0 387.2,469.0 387.2,467.1 388.2,467.1 388.2,465.6 389.0,465.6 389.0,464.6 390.9,464.6 390.9,463.6 393.0,463.6 395.7,463.6 395.7,462.2 395.7,461.0 398.0,461.0 402.2,461.0 402.2,460.0 404.7,460.0 404.7,459.4 404.7,459.0 406.6,459.0 406.6,458.2 408.7,458.2 408.7,457.0 412.2,457.0 412.2,456.3 413.9,456.3 413.9,455.8 415.4,455.8 422.0,455.8 422.0,454.6 422.9,454.6 422.9,451.5 425.0,451.5 426.0,451.5 426.0,450.0 427.9,450.0 427.9,449.8 427.9,449.5 430.4,449.5 435.0,449.5 435.0,449.0 435.0,448.7 437.0,448.7 441.4,448.7 441.4,448.2 441.4,446.3 441.8,446.3 442.5,446.3 442.5,442.7 442.5,441.7 446.2,441.7 448.5,441.7 448.5,441.2 451.0,441.2 451.0,440.5 454.9,440.5 454.9,440.1 454.9,439.7 457.9,439.7 460.0,439.7 460.0,439.5 460.7,439.5 460.7,438.2 460.7,436.0 462.0,436.0 462.0,435.4 465.8,435.4 465.8,435.0 468.6,435.0 468.6,434.8 470.4,434.8 470.4,434.5 473.8,434.5 473.8,434.3 476.5,434.3 476.5,434.0 479.5,434.0 479.5,433.3 481.8,433.3 481.8,432.4 484.7,432.4 484.7,431.5 487.9,431.5 487.9,430.7 490.5,430.7 492.4,430.7 492.4,430.3 492.4,429.8 494.9,429.8 494.9,428.9 499.6,428.9 499.6,428.5 501.4,428.5 501.4,427.7 504.7,427.7 504.7,427.2 506.3,427.2 509.0,427.2 509.0,426.6 512.3,426.6 512.3,425.7 514.8,425.7 514.8,425.4 516.4,425.4 516.4,425.3 516.4,425.0 518.9,425.0 518.9,424.6 523.0,424.6 523.0,424.3 527.6,424.3 527.6,424.2 530.0,424.2 534.1,424.2 534.1,423.9 534.1,423.8 536.4,423.8 539.5,423.8 539.5,423.6" stroke="#ff8c00" stroke-width="2.05"/>
<line x1="319.4" y1="577.0" x2="539.2" y2="423.50" stroke="#000" stroke-width="2.05" stroke-dasharray="6.94 3.01" stroke-dashoffset="-1.5"/>
</g>
<rect x="319.4" y="415.82" width="219.8" height="161.18" fill="none" stroke="#000" stroke-width="0.9"/>
<line x1="319.40" y1="577.0" x2="319.40" y2="580.8" stroke="#000" stroke-width="0.9"/>
<line x1="319.4" y1="577.00" x2="315.59999999999997" y2="577.00" stroke="#000" stroke-width="0.9"/>
<text x="319.40" y="592.4" font-size="9.1" text-anchor="middle">0.0</text>
<text x="311.2" y="580.60" font-size="9.1" text-anchor="end">0.0</text>
<line x1="363.36" y1="577.0" x2="363.36" y2="580.8" stroke="#000" stroke-width="0.9"/>
<line x1="319.4" y1="546.30" x2="315.59999999999997" y2="546.30" stroke="#000" stroke-width="0.9"/>
<text x="363.36" y="592.4" font-size="9.1" text-anchor="middle">0.2</text>
<text x="311.2" y="549.90" font-size="9.1" text-anchor="end">0.2</text>
<line x1="407.32" y1="577.0" x2="407.32" y2="580.8" stroke="#000" stroke-width="0.9"/>
<line x1="319.4" y1="515.60" x2="315.59999999999997" y2="515.60" stroke="#000" stroke-width="0.9"/>
<text x="407.32" y="592.4" font-size="9.1" text-anchor="middle">0.4</text>
<text x="311.2" y="519.20" font-size="9.1" text-anchor="end">0.4</text>
<line x1="451.28" y1="577.0" x2="451.28" y2="580.8" stroke="#000" stroke-width="0.9"/>
<line x1="319.4" y1="484.90" x2="315.59999999999997" y2="484.90" stroke="#000" stroke-width="0.9"/>
<text x="451.28" y="592.4" font-size="9.1" text-anchor="middle">0.6</text>
<text x="311.2" y="488.50" font-size="9.1" text-anchor="end">0.6</text>
<line x1="495.24" y1="577.0" x2="495.24" y2="580.8" stroke="#000" stroke-width="0.9"/>
<line x1="319.4" y1="454.20" x2="315.59999999999997" y2="454.20" stroke="#000" stroke-width="0.9"/>
<text x="495.24" y="592.4" font-size="9.1" text-anchor="middle">0.8</text>
<text x="311.2" y="457.80" font-size="9.1" text-anchor="end">0.8</text>
<line x1="539.20" y1="577.0" x2="539.20" y2="580.8" stroke="#000" stroke-width="0.9"/>
<line x1="319.4" y1="423.50" x2="315.59999999999997" y2="423.50" stroke="#000" stroke-width="0.9"/>
<text x="539.20" y="592.4" font-size="9.1" text-anchor="middle">1.0</text>
<text x="311.2" y="427.10" font-size="9.1" text-anchor="end">1.0</text>
<text x="428.70" y="606.1" font-size="9.1" text-anchor="middle">False Positive Rate</text>
<text transform="translate(290.40,496.41) rotate(-90)" font-size="9.1" text-anchor="middle">True Positive Rate</text>
<text x="429.60" y="616.20" font-size="8.7" text-anchor="middle">(f)</text>
<line x1="374.59999999999997" y1="537.20" x2="389.79999999999995" y2="537.20" stroke="#ff1493" stroke-width="2.05"/>
<text x="394.5" y="539.66" font-size="6.83" class="lg">micro-average ROC curve (area = 0.78)</text>
<line x1="374.59999999999997" y1="547.30" x2="389.79999999999995" y2="547.30" stroke="#000080" stroke-width="2.05"/>
<text x="394.5" y="549.76" font-size="6.83" class="lg">macro-average ROC curve (area = 0.76)</text>
<line x1="374.59999999999997" y1="557.40" x2="389.79999999999995" y2="557.40" stroke="#00ffff" stroke-width="2.05"/>
<text x="394.5" y="559.86" font-size="6.83" class="lg">ROC curve of class 0 (area = 0.76)</text>
<line x1="374.59999999999997" y1="567.50" x2="389.79999999999995" y2="567.50" stroke="#ff8c00" stroke-width="2.05"/>
<text x="394.5" y="569.96" font-size="6.83" class="lg">ROC curve of class 1 (area = 0.76)</text>
</svg>
</body></html>
